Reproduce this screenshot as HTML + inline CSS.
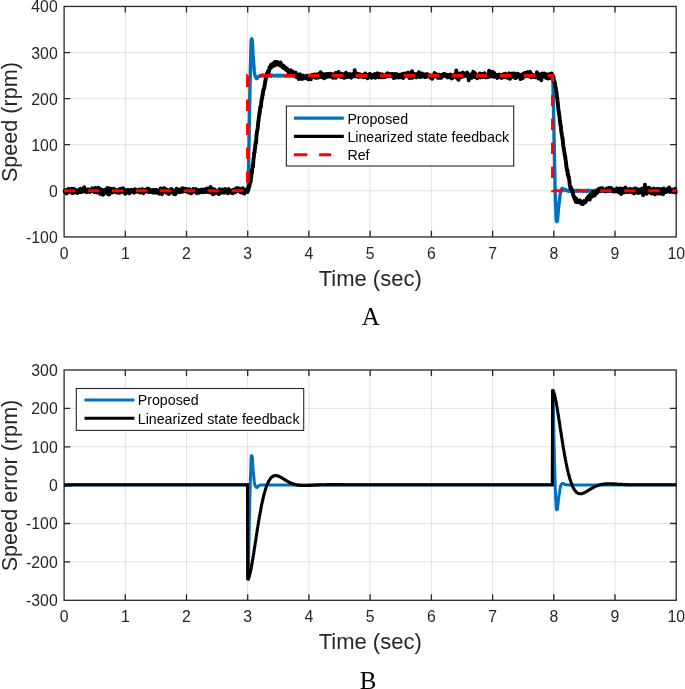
<!DOCTYPE html>
<html lang="en"><head><meta charset="utf-8"><title>Speed response</title>
<style>html,body{margin:0;padding:0;background:#fff}svg{display:block}</style></head>
<body>
<svg width="685" height="689" viewBox="0 0 685 689">
<rect width="685" height="689" fill="#fff"/>
<defs>
<clipPath id="c1"><rect x="62.49999999999999" y="6.45" width="615.3" height="230.5"/></clipPath>
<clipPath id="c2"><rect x="62.49999999999999" y="370.0" width="615.3" height="230.3"/></clipPath>
</defs>
<g stroke="#dedede" stroke-width="0.9" fill="none"><line x1="125.3" y1="6.45" x2="125.3" y2="236.95"/><line x1="186.5" y1="6.45" x2="186.5" y2="236.95"/><line x1="247.7" y1="6.45" x2="247.7" y2="236.95"/><line x1="308.9" y1="6.45" x2="308.9" y2="236.95"/><line x1="370.1" y1="6.45" x2="370.1" y2="236.95"/><line x1="431.4" y1="6.45" x2="431.4" y2="236.95"/><line x1="492.6" y1="6.45" x2="492.6" y2="236.95"/><line x1="553.8" y1="6.45" x2="553.8" y2="236.95"/><line x1="615.0" y1="6.45" x2="615.0" y2="236.95"/><line x1="64.1" y1="190.8" x2="676.2" y2="190.8"/><line x1="64.1" y1="144.7" x2="676.2" y2="144.7"/><line x1="64.1" y1="98.7" x2="676.2" y2="98.7"/><line x1="64.1" y1="52.6" x2="676.2" y2="52.6"/></g>
<g stroke="#262626" stroke-width="1.3" fill="none"><rect x="64.1" y="6.45" width="612.1" height="230.5"/><path d="M125.3,236.95v-6.1M125.3,6.45v6.1"/><path d="M186.5,236.95v-6.1M186.5,6.45v6.1"/><path d="M247.7,236.95v-6.1M247.7,6.45v6.1"/><path d="M308.9,236.95v-6.1M308.9,6.45v6.1"/><path d="M370.1,236.95v-6.1M370.1,6.45v6.1"/><path d="M431.4,236.95v-6.1M431.4,6.45v6.1"/><path d="M492.6,236.95v-6.1M492.6,6.45v6.1"/><path d="M553.8,236.95v-6.1M553.8,6.45v6.1"/><path d="M615.0,236.95v-6.1M615.0,6.45v6.1"/><path d="M64.1,190.8h6.1M676.2,190.8h-6.1"/><path d="M64.1,144.7h6.1M676.2,144.7h-6.1"/><path d="M64.1,98.7h6.1M676.2,98.7h-6.1"/><path d="M64.1,52.6h6.1M676.2,52.6h-6.1"/></g>
<g clip-path="url(#c1)" fill="none" stroke-linejoin="round">
<polyline stroke="#0072bd" stroke-width="3.4" points="64.1,191.1 64.3,191.0 64.6,191.0 64.8,191.2 65.1,190.7 65.3,190.6 65.6,190.9 65.8,190.7 66.1,190.7 66.3,190.6 66.5,190.9 66.8,190.8 67.0,191.3 67.3,190.9 67.5,190.6 67.8,191.1 68.0,190.9 68.3,191.1 68.5,190.5 68.8,191.1 69.0,190.6 69.2,190.4 69.5,191.0 69.7,191.0 70.0,190.6 70.2,190.6 70.5,190.9 70.7,190.6 71.0,190.7 71.2,190.6 71.4,191.1 71.7,191.1 71.9,190.7 72.2,190.7 72.4,191.3 72.7,190.8 72.9,190.5 73.2,190.5 73.4,190.8 73.6,190.7 73.9,190.2 74.1,190.7 74.4,191.1 74.6,190.5 74.9,190.8 75.1,191.2 75.4,191.0 75.6,191.0 75.9,190.8 76.1,190.8 76.3,191.1 76.6,190.9 76.8,190.9 77.1,191.1 77.3,190.4 77.6,190.5 77.8,190.9 78.1,191.0 78.3,191.2 78.5,190.5 78.8,190.5 79.0,191.4 79.3,190.7 79.5,191.1 79.8,191.1 80.0,190.7 80.3,190.8 80.5,190.6 80.7,190.8 81.0,190.8 81.2,190.5 81.5,191.1 81.7,190.9 82.0,190.8 82.2,190.8 82.5,190.8 82.7,191.2 83.0,190.9 83.2,191.2 83.4,191.0 83.7,190.4 83.9,190.5 84.2,191.1 84.4,190.8 84.7,191.0 84.9,190.7 85.2,191.0 85.4,190.8 85.6,190.3 85.9,190.7 86.1,191.0 86.4,190.4 86.6,190.5 86.9,191.1 87.1,191.0 87.4,190.6 87.6,191.0 87.8,190.8 88.1,190.9 88.3,191.1 88.6,190.8 88.8,191.1 89.1,190.6 89.3,190.8 89.6,191.1 89.8,190.6 90.1,190.8 90.3,190.9 90.5,190.6 90.8,190.5 91.0,190.6 91.3,190.7 91.5,190.7 91.8,190.8 92.0,191.1 92.3,190.6 92.5,191.1 92.7,191.2 93.0,190.6 93.2,190.9 93.5,191.3 93.7,190.9 94.0,191.0 94.2,190.3 94.5,190.7 94.7,190.8 94.9,190.9 95.2,190.9 95.4,190.7 95.7,191.2 95.9,191.1 96.2,191.4 96.4,191.0 96.7,190.7 96.9,190.9 97.2,190.8 97.4,191.0 97.6,190.6 97.9,191.0 98.1,190.8 98.4,191.3 98.6,190.9 98.9,190.6 99.1,190.9 99.4,190.8 99.6,190.8 99.8,191.1 100.1,190.5 100.3,191.3 100.6,191.0 100.8,191.0 101.1,190.5 101.3,190.9 101.6,190.6 101.8,190.7 102.1,190.9 102.3,190.8 102.5,190.8 102.8,191.1 103.0,190.7 103.3,190.8 103.5,191.0 103.8,190.9 104.0,191.5 104.3,190.9 104.5,190.6 104.7,190.9 105.0,190.6 105.2,190.8 105.5,190.6 105.7,191.0 106.0,191.0 106.2,190.8 106.5,191.0 106.7,191.1 106.9,191.1 107.2,191.3 107.4,191.0 107.7,191.2 107.9,190.8 108.2,190.6 108.4,190.8 108.7,190.9 108.9,190.9 109.2,191.2 109.4,191.1 109.6,191.1 109.9,191.0 110.1,191.4 110.4,190.7 110.6,190.9 110.9,190.5 111.1,190.6 111.4,190.6 111.6,191.1 111.8,190.6 112.1,191.0 112.3,191.0 112.6,190.7 112.8,190.9 113.1,190.8 113.3,190.9 113.6,190.3 113.8,191.2 114.0,191.0 114.3,190.7 114.5,190.9 114.8,190.7 115.0,190.9 115.3,190.9 115.5,190.8 115.8,190.6 116.0,190.7 116.3,191.2 116.5,190.9 116.7,190.7 117.0,191.2 117.2,191.1 117.5,190.9 117.7,191.1 118.0,190.6 118.2,190.7 118.5,190.8 118.7,190.7 118.9,191.1 119.2,190.9 119.4,190.6 119.7,191.0 119.9,191.2 120.2,190.8 120.4,190.5 120.7,190.5 120.9,190.2 121.1,190.8 121.4,190.9 121.6,190.7 121.9,190.8 122.1,190.8 122.4,190.9 122.6,190.8 122.9,190.8 123.1,190.8 123.4,190.6 123.6,191.3 123.8,190.7 124.1,190.9 124.3,190.8 124.6,190.3 124.8,190.6 125.1,191.1 125.3,190.6 125.6,190.8 125.8,191.0 126.0,190.7 126.3,190.9 126.5,190.7 126.8,190.6 127.0,190.6 127.3,191.2 127.5,191.1 127.8,191.2 128.0,191.0 128.2,190.9 128.5,190.7 128.7,190.8 129.0,191.0 129.2,191.1 129.5,190.7 129.7,190.8 130.0,190.6 130.2,190.8 130.5,191.1 130.7,190.7 130.9,190.8 131.2,190.8 131.4,190.9 131.7,190.8 131.9,190.6 132.2,190.9 132.4,190.8 132.7,191.0 132.9,191.3 133.1,191.1 133.4,190.8 133.6,190.7 133.9,190.6 134.1,191.1 134.4,191.0 134.6,190.5 134.9,191.1 135.1,190.7 135.3,190.5 135.6,190.7 135.8,191.2 136.1,191.0 136.3,191.0 136.6,190.6 136.8,190.7 137.1,190.5 137.3,190.8 137.6,190.8 137.8,191.0 138.0,190.7 138.3,190.8 138.5,190.6 138.8,191.2 139.0,190.5 139.3,190.7 139.5,191.3 139.8,190.7 140.0,190.7 140.2,191.2 140.5,191.0 140.7,191.1 141.0,190.8 141.2,190.5 141.5,191.0 141.7,190.7 142.0,191.0 142.2,190.9 142.4,190.7 142.7,191.3 142.9,190.7 143.2,191.1 143.4,190.7 143.7,190.6 143.9,191.1 144.2,190.6 144.4,190.8 144.7,190.6 144.9,191.0 145.1,190.8 145.4,190.5 145.6,191.0 145.9,191.0 146.1,191.0 146.4,190.7 146.6,190.5 146.9,190.9 147.1,190.8 147.3,190.8 147.6,190.5 147.8,190.8 148.1,191.0 148.3,191.2 148.6,191.3 148.8,190.9 149.1,190.8 149.3,191.0 149.5,191.0 149.8,191.3 150.0,190.8 150.3,190.7 150.5,190.8 150.8,190.7 151.0,190.9 151.3,190.5 151.5,190.4 151.8,190.8 152.0,191.2 152.2,191.0 152.5,190.7 152.7,190.8 153.0,190.8 153.2,190.9 153.5,190.7 153.7,190.8 154.0,191.0 154.2,190.5 154.4,190.7 154.7,190.8 154.9,190.8 155.2,190.9 155.4,191.5 155.7,190.9 155.9,190.9 156.2,190.5 156.4,190.8 156.6,190.8 156.9,191.0 157.1,191.1 157.4,190.6 157.6,191.0 157.9,191.1 158.1,190.6 158.4,190.7 158.6,190.7 158.9,191.4 159.1,190.6 159.3,190.5 159.6,191.1 159.8,191.1 160.1,191.0 160.3,190.7 160.6,190.5 160.8,190.4 161.1,191.0 161.3,191.0 161.5,191.0 161.8,190.9 162.0,190.9 162.3,190.8 162.5,190.7 162.8,191.4 163.0,190.8 163.3,190.6 163.5,190.9 163.7,190.6 164.0,190.7 164.2,190.4 164.5,191.0 164.7,190.7 165.0,190.7 165.2,190.9 165.5,191.0 165.7,190.7 166.0,191.1 166.2,190.7 166.4,190.7 166.7,190.5 166.9,190.9 167.2,191.0 167.4,190.9 167.7,190.7 167.9,190.7 168.2,191.0 168.4,191.5 168.6,190.4 168.9,191.0 169.1,190.7 169.4,191.2 169.6,191.0 169.9,190.9 170.1,191.0 170.4,190.7 170.6,190.6 170.9,190.7 171.1,190.7 171.3,190.5 171.6,190.9 171.8,190.5 172.1,190.6 172.3,191.0 172.6,191.1 172.8,190.6 173.1,190.7 173.3,191.2 173.5,190.7 173.8,190.9 174.0,190.8 174.3,190.9 174.5,191.3 174.8,190.8 175.0,190.9 175.3,190.9 175.5,190.7 175.7,190.5 176.0,190.9 176.2,190.9 176.5,191.2 176.7,191.1 177.0,190.9 177.2,190.6 177.5,190.5 177.7,190.3 178.0,190.7 178.2,191.0 178.4,190.9 178.7,190.6 178.9,190.7 179.2,190.9 179.4,190.8 179.7,190.5 179.9,190.8 180.2,191.3 180.4,190.5 180.6,190.7 180.9,190.6 181.1,190.9 181.4,190.9 181.6,190.9 181.9,190.6 182.1,191.0 182.4,190.9 182.6,190.6 182.8,190.6 183.1,190.9 183.3,190.8 183.6,191.0 183.8,191.2 184.1,190.6 184.3,191.2 184.6,191.1 184.8,190.8 185.1,190.5 185.3,190.9 185.5,190.7 185.8,190.8 186.0,190.7 186.3,191.1 186.5,190.9 186.8,190.9 187.0,191.3 187.3,191.0 187.5,190.5 187.7,190.9 188.0,191.0 188.2,190.5 188.5,191.0 188.7,191.1 189.0,190.8 189.2,190.9 189.5,191.1 189.7,190.7 189.9,190.9 190.2,190.5 190.4,191.0 190.7,190.8 190.9,191.0 191.2,191.1 191.4,190.9 191.7,191.2 191.9,190.6 192.2,191.1 192.4,190.7 192.6,190.8 192.9,191.1 193.1,190.7 193.4,190.5 193.6,190.9 193.9,191.1 194.1,190.4 194.4,190.8 194.6,190.7 194.8,190.7 195.1,191.1 195.3,191.1 195.6,190.6 195.8,190.9 196.1,190.8 196.3,191.0 196.6,191.0 196.8,190.6 197.0,190.4 197.3,191.0 197.5,190.8 197.8,190.5 198.0,190.9 198.3,190.5 198.5,190.7 198.8,190.6 199.0,191.0 199.3,191.5 199.5,190.8 199.7,191.2 200.0,190.7 200.2,191.0 200.5,190.9 200.7,191.2 201.0,190.7 201.2,191.2 201.5,190.7 201.7,190.7 201.9,190.8 202.2,190.5 202.4,190.8 202.7,190.7 202.9,191.1 203.2,191.0 203.4,190.5 203.7,190.6 203.9,190.6 204.1,190.8 204.4,191.1 204.6,191.0 204.9,190.8 205.1,190.8 205.4,190.7 205.6,190.7 205.9,191.1 206.1,191.1 206.4,190.6 206.6,190.7 206.8,190.7 207.1,191.1 207.3,190.1 207.6,190.7 207.8,191.1 208.1,191.0 208.3,191.1 208.6,190.8 208.8,191.1 209.0,190.8 209.3,190.9 209.5,190.8 209.8,190.8 210.0,191.0 210.3,190.6 210.5,190.8 210.8,190.8 211.0,190.6 211.2,190.6 211.5,190.9 211.7,191.2 212.0,191.2 212.2,191.1 212.5,190.9 212.7,190.7 213.0,191.0 213.2,190.6 213.5,191.1 213.7,190.5 213.9,191.0 214.2,190.8 214.4,191.2 214.7,191.0 214.9,190.8 215.2,191.1 215.4,190.4 215.7,191.1 215.9,190.8 216.1,190.8 216.4,190.7 216.6,191.0 216.9,190.8 217.1,191.0 217.4,190.7 217.6,191.1 217.9,190.9 218.1,190.5 218.3,191.1 218.6,191.1 218.8,191.0 219.1,190.5 219.3,190.9 219.6,190.5 219.8,190.9 220.1,190.9 220.3,191.1 220.6,190.9 220.8,190.8 221.0,190.8 221.3,191.6 221.5,190.9 221.8,190.7 222.0,191.0 222.3,190.9 222.5,190.8 222.8,191.0 223.0,190.8 223.2,190.9 223.5,190.7 223.7,191.1 224.0,191.1 224.2,190.9 224.5,190.9 224.7,191.1 225.0,190.8 225.2,191.0 225.4,190.9 225.7,190.4 225.9,190.6 226.2,190.9 226.4,190.8 226.7,190.8 226.9,190.8 227.2,190.9 227.4,191.1 227.7,191.2 227.9,190.2 228.1,191.4 228.4,190.9 228.6,191.1 228.9,190.5 229.1,190.8 229.4,190.5 229.6,191.3 229.9,190.8 230.1,191.0 230.3,190.9 230.6,190.9 230.8,190.9 231.1,190.5 231.3,191.2 231.6,191.1 231.8,191.2 232.1,190.8 232.3,190.5 232.5,191.3 232.8,190.7 233.0,190.9 233.3,190.7 233.5,191.1 233.8,190.8 234.0,190.8 234.3,190.6 234.5,190.6 234.8,190.7 235.0,191.0 235.2,191.0 235.5,190.9 235.7,190.7 236.0,191.0 236.2,190.9 236.5,191.0 236.7,191.0 237.0,190.8 237.2,190.6 237.4,191.0 237.7,190.9 237.9,191.2 238.2,191.0 238.4,190.9 238.7,190.7 238.9,190.7 239.2,190.8 239.4,190.8 239.7,190.8 239.9,190.8 240.1,190.8 240.4,190.4 240.6,190.9 240.9,190.9 241.1,190.7 241.4,191.2 241.6,190.5 241.9,190.6 242.1,190.9 242.3,191.0 242.6,191.5 242.8,191.1 243.1,191.0 243.3,190.7 243.6,190.9 243.8,191.3 244.1,190.6 244.3,191.1 244.5,190.5 244.8,191.2 245.0,190.7 245.3,191.1 245.5,190.9 245.8,190.8 246.0,191.1 246.3,190.9 246.5,191.0 246.8,191.0 247.0,190.8 247.2,191.2 247.5,190.9 247.7,190.5 248.0,190.7 248.2,184.3 248.5,171.0 248.7,156.9 249.0,143.2 249.2,129.5 249.4,116.0 249.7,102.2 249.9,90.2 250.2,78.5 250.4,68.0 250.7,58.7 250.9,48.3 251.2,41.2 251.4,38.9 251.6,39.6 251.9,38.8 252.1,40.0 252.4,43.2 252.6,46.4 252.9,52.1 253.1,56.7 253.4,59.7 253.6,62.7 253.9,66.0 254.1,68.8 254.3,71.7 254.6,73.8 254.8,74.7 255.1,75.7 255.3,76.2 255.6,77.1 255.8,77.4 256.1,78.3 256.3,78.1 256.5,78.2 256.8,78.6 257.0,78.4 257.3,77.8 257.5,77.5 257.8,77.7 258.0,77.1 258.3,76.7 258.5,76.8 258.7,76.6 259.0,76.2 259.2,76.1 259.5,76.0 259.7,75.8 260.0,75.9 260.2,75.4 260.5,75.6 260.7,75.6 261.0,75.5 261.2,75.4 261.4,75.8 261.7,75.8 261.9,75.4 262.2,75.4 262.4,75.2 262.7,75.7 262.9,75.0 263.2,75.8 263.4,75.5 263.6,75.4 263.9,75.4 264.1,75.7 264.4,75.3 264.6,75.6 264.9,75.6 265.1,75.6 265.4,75.6 265.6,75.4 265.8,75.5 266.1,75.2 266.3,75.8 266.6,75.5 266.8,75.5 267.1,75.6 267.3,75.6 267.6,75.9 267.8,75.7 268.1,75.5 268.3,75.5 268.5,75.7 268.8,75.7 269.0,75.2 269.3,75.7 269.5,75.7 269.8,75.1 270.0,75.4 270.3,75.8 270.5,75.5 270.7,75.8 271.0,75.6 271.2,75.8 271.5,76.1 271.7,75.3 272.0,75.2 272.2,75.7 272.5,75.5 272.7,75.6 272.9,75.2 273.2,75.5 273.4,75.5 273.7,75.5 273.9,75.5 274.2,75.9 274.4,75.6 274.7,75.6 274.9,75.9 275.2,75.6 275.4,75.6 275.6,75.6 275.9,75.6 276.1,75.6 276.4,75.4 276.6,75.8 276.9,75.6 277.1,75.2 277.4,75.2 277.6,75.8 277.8,75.4 278.1,75.4 278.3,75.6 278.6,76.1 278.8,75.5 279.1,75.5 279.3,75.6 279.6,75.4 279.8,75.6 280.0,75.4 280.3,75.7 280.5,75.3 280.8,75.9 281.0,75.6 281.3,75.7 281.5,75.7 281.8,75.6 282.0,75.5 282.3,75.5 282.5,75.5 282.7,75.7 283.0,75.7 283.2,75.5 283.5,75.6 283.7,75.6 284.0,76.0 284.2,75.5 284.5,76.1 284.7,76.0 284.9,75.6 285.2,75.8 285.4,75.6 285.7,75.7 285.9,76.1 286.2,75.7 286.4,75.6 286.7,76.0 286.9,75.9 287.1,75.6 287.4,75.9 287.6,75.6 287.9,75.6 288.1,75.7 288.4,75.8 288.6,75.4 288.9,75.2 289.1,75.9 289.4,75.8 289.6,75.5 289.8,75.2 290.1,76.1 290.3,76.1 290.6,75.4 290.8,76.0 291.1,75.8 291.3,75.8 291.6,75.5 291.8,75.7 292.0,75.2 292.3,75.4 292.5,75.4 292.8,75.2 293.0,75.6 293.3,75.7 293.5,75.7 293.8,75.3 294.0,76.1 294.2,75.5 294.5,75.4 294.7,75.3 295.0,76.0 295.2,75.8 295.5,75.1 295.7,75.5 296.0,75.4 296.2,75.6 296.5,75.6 296.7,75.5 296.9,75.7 297.2,75.7 297.4,75.7 297.7,75.9 297.9,75.6 298.2,75.9 298.4,75.6 298.7,75.3 298.9,75.5 299.1,75.7 299.4,75.9 299.6,75.9 299.9,75.5 300.1,75.6 300.4,75.3 300.6,75.5 300.9,75.6 301.1,75.8 301.3,75.7 301.6,75.8 301.8,75.5 302.1,75.5 302.3,75.5 302.6,75.3 302.8,75.7 303.1,75.3 303.3,75.5 303.6,75.4 303.8,75.5 304.0,75.9 304.3,75.7 304.5,75.7 304.8,75.9 305.0,75.5 305.3,75.4 305.5,75.6 305.8,75.6 306.0,75.6 306.2,75.5 306.5,75.2 306.7,75.3 307.0,75.6 307.2,75.5 307.5,75.9 307.7,75.5 308.0,75.5 308.2,75.7 308.5,75.2 308.7,75.8 308.9,75.9 309.2,75.8 309.4,75.8 309.7,75.6 309.9,76.0 310.2,76.0 310.4,75.8 310.7,75.6 310.9,75.7 311.1,75.3 311.4,75.7 311.6,75.1 311.9,75.7 312.1,75.8 312.4,75.4 312.6,75.4 312.9,75.6 313.1,75.6 313.3,75.7 313.6,75.8 313.8,75.7 314.1,75.7 314.3,75.6 314.6,75.9 314.8,76.0 315.1,75.6 315.3,75.5 315.6,75.5 315.8,75.9 316.0,75.8 316.3,75.4 316.5,75.6 316.8,75.7 317.0,75.4 317.3,75.2 317.5,75.6 317.8,75.6 318.0,75.8 318.2,75.5 318.5,75.8 318.7,75.6 319.0,75.8 319.2,75.3 319.5,75.5 319.7,75.7 320.0,75.8 320.2,75.8 320.4,76.0 320.7,76.1 320.9,75.6 321.2,75.3 321.4,75.3 321.7,75.1 321.9,75.7 322.2,75.5 322.4,75.3 322.7,75.7 322.9,75.5 323.1,75.7 323.4,75.4 323.6,75.5 323.9,76.1 324.1,75.4 324.4,75.8 324.6,75.6 324.9,76.1 325.1,75.5 325.3,75.8 325.6,76.1 325.8,75.4 326.1,75.5 326.3,75.3 326.6,75.4 326.8,75.8 327.1,75.8 327.3,75.6 327.5,75.5 327.8,75.7 328.0,75.6 328.3,75.3 328.5,75.6 328.8,75.5 329.0,75.8 329.3,75.5 329.5,75.8 329.8,75.8 330.0,75.6 330.2,75.6 330.5,75.9 330.7,75.5 331.0,75.5 331.2,76.0 331.5,75.5 331.7,75.4 332.0,75.6 332.2,75.4 332.4,75.5 332.7,75.5 332.9,75.6 333.2,75.5 333.4,75.5 333.7,75.5 333.9,75.9 334.2,75.9 334.4,75.6 334.6,75.6 334.9,75.7 335.1,75.8 335.4,75.8 335.6,75.8 335.9,75.9 336.1,75.2 336.4,75.8 336.6,75.8 336.9,75.8 337.1,75.6 337.3,75.6 337.6,75.3 337.8,75.7 338.1,75.6 338.3,75.5 338.6,75.6 338.8,75.4 339.1,75.4 339.3,75.7 339.5,75.7 339.8,75.8 340.0,75.3 340.3,75.7 340.5,75.6 340.8,75.4 341.0,75.4 341.3,75.8 341.5,75.1 341.7,75.9 342.0,75.5 342.2,75.8 342.5,75.8 342.7,75.8 343.0,75.3 343.2,75.6 343.5,75.6 343.7,75.5 344.0,75.7 344.2,75.7 344.4,75.4 344.7,75.4 344.9,75.6 345.2,75.4 345.4,75.9 345.7,75.2 345.9,75.5 346.2,75.6 346.4,75.6 346.6,75.6 346.9,75.4 347.1,75.9 347.4,75.8 347.6,75.6 347.9,76.0 348.1,75.8 348.4,75.8 348.6,75.7 348.8,75.7 349.1,75.8 349.3,76.1 349.6,75.5 349.8,75.2 350.1,75.8 350.3,75.4 350.6,75.5 350.8,75.4 351.1,75.5 351.3,75.4 351.5,75.5 351.8,75.8 352.0,75.9 352.3,75.7 352.5,75.8 352.8,75.4 353.0,75.8 353.3,75.3 353.5,75.4 353.7,75.7 354.0,75.2 354.2,75.2 354.5,75.3 354.7,75.5 355.0,75.4 355.2,75.4 355.5,75.5 355.7,76.0 355.9,75.6 356.2,75.6 356.4,75.5 356.7,76.0 356.9,75.6 357.2,75.7 357.4,75.3 357.7,75.8 357.9,75.7 358.2,75.6 358.4,75.5 358.6,75.9 358.9,76.1 359.1,75.4 359.4,76.1 359.6,75.3 359.9,75.4 360.1,75.6 360.4,75.5 360.6,75.7 360.8,75.6 361.1,75.6 361.3,75.3 361.6,75.7 361.8,75.4 362.1,75.4 362.3,75.5 362.6,75.4 362.8,75.2 363.0,75.7 363.3,75.4 363.5,75.2 363.8,76.1 364.0,75.7 364.3,75.7 364.5,75.6 364.8,75.5 365.0,75.7 365.3,75.9 365.5,75.7 365.7,75.7 366.0,75.6 366.2,75.4 366.5,75.5 366.7,75.9 367.0,75.4 367.2,75.6 367.5,75.4 367.7,75.3 367.9,75.4 368.2,75.5 368.4,76.0 368.7,75.4 368.9,75.8 369.2,75.8 369.4,75.5 369.7,75.7 369.9,75.4 370.1,75.7 370.4,75.8 370.6,75.8 370.9,75.8 371.1,75.8 371.4,76.0 371.6,75.5 371.9,75.7 372.1,75.6 372.4,75.7 372.6,75.3 372.8,75.8 373.1,75.9 373.3,75.8 373.6,76.0 373.8,75.1 374.1,75.8 374.3,75.7 374.6,75.2 374.8,75.7 375.0,75.5 375.3,75.3 375.5,75.4 375.8,75.8 376.0,75.6 376.3,75.5 376.5,76.0 376.8,75.6 377.0,75.3 377.3,76.0 377.5,75.6 377.7,75.7 378.0,75.4 378.2,75.8 378.5,75.6 378.7,75.7 379.0,75.3 379.2,75.6 379.5,75.6 379.7,75.3 379.9,75.1 380.2,75.8 380.4,75.7 380.7,75.4 380.9,75.7 381.2,75.6 381.4,75.8 381.7,75.5 381.9,75.7 382.1,75.6 382.4,75.4 382.6,75.9 382.9,75.5 383.1,76.0 383.4,75.8 383.6,75.7 383.9,75.3 384.1,75.8 384.4,75.6 384.6,75.5 384.8,75.5 385.1,75.7 385.3,75.8 385.6,75.6 385.8,75.4 386.1,75.8 386.3,75.8 386.6,75.9 386.8,75.8 387.0,75.6 387.3,76.0 387.5,75.7 387.8,75.8 388.0,75.3 388.3,75.7 388.5,75.3 388.8,75.6 389.0,75.7 389.2,75.4 389.5,75.5 389.7,75.7 390.0,75.5 390.2,75.5 390.5,75.4 390.7,75.6 391.0,75.4 391.2,75.1 391.5,75.6 391.7,75.7 391.9,75.7 392.2,75.5 392.4,75.9 392.7,75.3 392.9,75.7 393.2,75.7 393.4,75.2 393.7,75.6 393.9,75.6 394.1,75.7 394.4,75.7 394.6,75.5 394.9,75.4 395.1,75.5 395.4,75.6 395.6,75.7 395.9,76.0 396.1,75.6 396.3,75.7 396.6,75.8 396.8,75.6 397.1,75.9 397.3,75.2 397.6,75.7 397.8,75.5 398.1,75.3 398.3,75.7 398.6,75.8 398.8,75.5 399.0,75.5 399.3,75.4 399.5,75.5 399.8,75.6 400.0,75.6 400.3,75.7 400.5,75.6 400.8,75.5 401.0,75.9 401.2,75.6 401.5,75.8 401.7,75.5 402.0,75.4 402.2,75.7 402.5,75.8 402.7,75.8 403.0,76.1 403.2,75.6 403.4,75.4 403.7,75.4 403.9,75.7 404.2,76.0 404.4,75.8 404.7,75.7 404.9,75.4 405.2,75.4 405.4,75.7 405.7,75.6 405.9,75.8 406.1,75.4 406.4,75.7 406.6,76.4 406.9,75.4 407.1,75.6 407.4,75.4 407.6,75.6 407.9,75.4 408.1,75.5 408.3,75.9 408.6,75.6 408.8,75.9 409.1,75.6 409.3,75.6 409.6,75.5 409.8,75.4 410.1,75.3 410.3,75.7 410.5,76.1 410.8,75.3 411.0,75.5 411.3,75.5 411.5,75.5 411.8,75.8 412.0,75.5 412.3,75.4 412.5,76.0 412.8,75.5 413.0,75.3 413.2,75.6 413.5,75.9 413.7,75.8 414.0,75.6 414.2,75.8 414.5,75.5 414.7,75.4 415.0,75.2 415.2,76.0 415.4,75.7 415.7,75.8 415.9,75.6 416.2,75.4 416.4,75.7 416.7,75.5 416.9,75.5 417.2,75.5 417.4,75.6 417.6,75.3 417.9,75.3 418.1,75.6 418.4,75.4 418.6,75.6 418.9,75.2 419.1,75.7 419.4,75.7 419.6,75.7 419.9,75.7 420.1,75.6 420.3,75.4 420.6,75.3 420.8,75.5 421.1,75.8 421.3,75.5 421.6,75.7 421.8,75.8 422.1,75.7 422.3,75.8 422.5,75.5 422.8,75.9 423.0,75.5 423.3,75.7 423.5,75.6 423.8,75.4 424.0,75.6 424.3,75.7 424.5,75.9 424.7,75.5 425.0,75.7 425.2,75.5 425.5,75.4 425.7,75.8 426.0,75.9 426.2,75.0 426.5,75.4 426.7,75.8 427.0,75.3 427.2,75.5 427.4,75.8 427.7,75.4 427.9,75.3 428.2,75.7 428.4,75.7 428.7,75.8 428.9,75.6 429.2,75.6 429.4,75.6 429.6,75.8 429.9,75.7 430.1,75.2 430.4,75.3 430.6,75.7 430.9,75.5 431.1,75.6 431.4,75.1 431.6,75.1 431.8,75.3 432.1,76.2 432.3,75.8 432.6,75.8 432.8,75.8 433.1,75.4 433.3,75.5 433.6,75.9 433.8,75.7 434.1,75.6 434.3,75.8 434.5,75.5 434.8,75.6 435.0,75.2 435.3,75.8 435.5,75.9 435.8,76.2 436.0,75.5 436.3,75.7 436.5,75.6 436.7,76.0 437.0,75.8 437.2,75.4 437.5,75.3 437.7,75.4 438.0,75.6 438.2,75.3 438.5,75.3 438.7,76.0 439.0,75.6 439.2,75.6 439.4,75.6 439.7,75.6 439.9,75.7 440.2,75.8 440.4,75.4 440.7,75.7 440.9,75.6 441.2,75.6 441.4,75.8 441.6,75.4 441.9,75.5 442.1,75.4 442.4,75.7 442.6,75.7 442.9,75.7 443.1,75.7 443.4,75.4 443.6,75.2 443.8,75.5 444.1,75.6 444.3,75.9 444.6,75.3 444.8,75.3 445.1,75.9 445.3,75.7 445.6,75.7 445.8,75.8 446.1,75.6 446.3,75.6 446.5,75.4 446.8,75.3 447.0,75.7 447.3,75.2 447.5,75.8 447.8,75.7 448.0,75.7 448.3,75.5 448.5,75.9 448.7,75.0 449.0,75.9 449.2,75.7 449.5,75.5 449.7,75.6 450.0,75.3 450.2,75.7 450.5,75.8 450.7,75.3 450.9,75.7 451.2,75.0 451.4,75.4 451.7,75.7 451.9,75.3 452.2,76.2 452.4,76.0 452.7,75.6 452.9,75.9 453.2,75.5 453.4,76.0 453.6,75.9 453.9,75.5 454.1,75.5 454.4,75.6 454.6,75.8 454.9,76.0 455.1,75.7 455.4,75.6 455.6,75.4 455.8,75.6 456.1,75.6 456.3,75.5 456.6,75.6 456.8,75.3 457.1,75.5 457.3,75.8 457.6,75.8 457.8,75.4 458.0,75.8 458.3,75.4 458.5,75.6 458.8,75.4 459.0,75.7 459.3,75.5 459.5,75.5 459.8,75.6 460.0,76.0 460.3,75.7 460.5,75.6 460.7,75.5 461.0,75.5 461.2,75.7 461.5,76.1 461.7,75.8 462.0,75.7 462.2,75.5 462.5,75.4 462.7,75.2 462.9,75.3 463.2,75.6 463.4,75.5 463.7,75.3 463.9,75.2 464.2,75.4 464.4,75.5 464.7,75.5 464.9,75.4 465.1,75.7 465.4,75.7 465.6,75.5 465.9,75.3 466.1,75.6 466.4,76.1 466.6,75.6 466.9,75.6 467.1,75.3 467.4,75.5 467.6,75.8 467.8,75.5 468.1,75.7 468.3,75.7 468.6,75.6 468.8,75.2 469.1,75.8 469.3,75.1 469.6,75.2 469.8,75.6 470.0,75.8 470.3,75.5 470.5,75.6 470.8,75.2 471.0,75.6 471.3,75.3 471.5,75.5 471.8,76.0 472.0,75.5 472.2,75.6 472.5,75.9 472.7,75.6 473.0,75.5 473.2,75.4 473.5,75.6 473.7,75.6 474.0,75.5 474.2,75.6 474.5,75.7 474.7,75.7 474.9,75.2 475.2,75.7 475.4,75.4 475.7,75.5 475.9,75.8 476.2,75.5 476.4,75.4 476.7,75.8 476.9,76.0 477.1,75.9 477.4,75.4 477.6,75.5 477.9,75.4 478.1,75.3 478.4,75.5 478.6,75.4 478.9,75.6 479.1,75.8 479.3,74.9 479.6,75.5 479.8,75.3 480.1,75.6 480.3,75.3 480.6,75.7 480.8,75.5 481.1,75.6 481.3,75.4 481.6,75.5 481.8,75.7 482.0,75.9 482.3,75.8 482.5,75.6 482.8,75.8 483.0,75.3 483.3,75.8 483.5,75.4 483.8,75.5 484.0,75.4 484.2,75.5 484.5,75.3 484.7,75.4 485.0,75.6 485.2,75.4 485.5,75.6 485.7,75.2 486.0,75.9 486.2,76.0 486.4,75.5 486.7,75.7 486.9,75.3 487.2,75.8 487.4,76.0 487.7,75.7 487.9,75.3 488.2,76.0 488.4,75.8 488.7,75.6 488.9,75.5 489.1,75.4 489.4,75.6 489.6,75.4 489.9,75.5 490.1,75.4 490.4,75.6 490.6,75.6 490.9,75.7 491.1,75.5 491.3,75.6 491.6,75.4 491.8,75.7 492.1,75.7 492.3,75.3 492.6,75.6 492.8,75.5 493.1,75.2 493.3,75.8 493.5,75.5 493.8,75.6 494.0,75.6 494.3,75.4 494.5,76.0 494.8,75.9 495.0,75.7 495.3,75.4 495.5,75.1 495.8,75.9 496.0,75.6 496.2,75.6 496.5,75.5 496.7,75.5 497.0,75.5 497.2,75.4 497.5,75.4 497.7,75.5 498.0,75.6 498.2,76.1 498.4,75.8 498.7,75.6 498.9,75.0 499.2,75.5 499.4,75.2 499.7,75.6 499.9,75.9 500.2,75.7 500.4,75.4 500.6,75.6 500.9,75.7 501.1,75.2 501.4,75.6 501.6,75.6 501.9,76.0 502.1,75.9 502.4,75.6 502.6,75.6 502.9,76.0 503.1,75.6 503.3,75.7 503.6,75.0 503.8,74.9 504.1,75.4 504.3,75.9 504.6,75.2 504.8,75.4 505.1,75.8 505.3,75.5 505.5,75.4 505.8,75.4 506.0,75.7 506.3,75.4 506.5,75.4 506.8,75.2 507.0,76.1 507.3,75.8 507.5,75.0 507.8,75.7 508.0,75.2 508.2,75.3 508.5,75.9 508.7,75.8 509.0,75.5 509.2,75.8 509.5,75.8 509.7,75.4 510.0,75.5 510.2,75.8 510.4,75.6 510.7,75.5 510.9,75.4 511.2,75.5 511.4,75.3 511.7,75.8 511.9,75.5 512.2,75.5 512.4,75.8 512.6,75.2 512.9,75.8 513.1,75.6 513.4,75.3 513.6,76.0 513.9,75.6 514.1,75.6 514.4,76.0 514.6,75.6 514.9,75.5 515.1,76.0 515.3,75.5 515.6,75.7 515.8,75.6 516.1,75.6 516.3,75.5 516.6,75.8 516.8,75.2 517.1,75.5 517.3,75.5 517.5,75.7 517.8,75.4 518.0,75.7 518.3,75.5 518.5,76.0 518.8,75.1 519.0,75.9 519.3,75.1 519.5,75.8 519.7,75.5 520.0,75.4 520.2,75.4 520.5,75.7 520.7,75.4 521.0,75.7 521.2,75.2 521.5,75.6 521.7,75.7 522.0,75.8 522.2,75.2 522.4,75.8 522.7,75.7 522.9,75.7 523.2,75.5 523.4,75.3 523.7,75.4 523.9,75.5 524.2,75.6 524.4,75.8 524.6,75.2 524.9,75.6 525.1,75.5 525.4,75.5 525.6,75.7 525.9,75.3 526.1,75.7 526.4,75.6 526.6,75.5 526.8,75.8 527.1,75.7 527.3,76.1 527.6,75.7 527.8,75.8 528.1,75.4 528.3,75.4 528.6,75.5 528.8,75.4 529.1,76.0 529.3,75.8 529.5,75.2 529.8,75.3 530.0,75.3 530.3,75.8 530.5,75.4 530.8,75.9 531.0,75.5 531.3,75.5 531.5,75.2 531.7,75.5 532.0,75.7 532.2,75.7 532.5,75.5 532.7,75.8 533.0,75.0 533.2,75.9 533.5,75.5 533.7,75.6 533.9,75.8 534.2,75.5 534.4,75.5 534.7,75.6 534.9,75.7 535.2,75.5 535.4,75.4 535.7,75.8 535.9,76.0 536.2,75.3 536.4,75.4 536.6,75.5 536.9,75.7 537.1,75.6 537.4,75.3 537.6,75.5 537.9,75.3 538.1,75.7 538.4,75.4 538.6,75.4 538.8,76.0 539.1,75.4 539.3,75.7 539.6,75.5 539.8,75.2 540.1,75.5 540.3,75.9 540.6,75.1 540.8,75.3 541.0,75.7 541.3,75.7 541.5,75.5 541.8,75.5 542.0,75.7 542.3,75.7 542.5,75.8 542.8,75.8 543.0,75.4 543.3,75.6 543.5,75.3 543.7,75.6 544.0,75.8 544.2,75.2 544.5,75.8 544.7,75.9 545.0,75.4 545.2,75.8 545.5,75.6 545.7,75.4 545.9,75.1 546.2,75.5 546.4,75.6 546.7,75.5 546.9,75.5 547.2,75.6 547.4,75.7 547.7,75.8 547.9,75.9 548.1,75.7 548.4,75.8 548.6,75.7 548.9,75.5 549.1,75.8 549.4,75.7 549.6,75.3 549.9,75.2 550.1,75.2 550.4,76.1 550.6,75.2 550.8,75.3 551.1,76.3 551.3,75.1 551.6,75.6 551.8,75.4 552.1,75.7 552.3,75.7 552.6,76.0 552.8,75.2 553.0,85.0 553.3,96.9 553.5,110.1 553.8,123.3 554.0,136.5 554.3,149.3 554.5,161.6 554.8,173.0 555.0,183.5 555.2,192.9 555.5,200.1 555.7,207.2 556.0,214.2 556.2,219.5 556.5,221.4 556.7,221.3 557.0,221.7 557.2,221.1 557.5,220.3 557.7,217.9 557.9,215.3 558.2,212.2 558.4,209.4 558.7,206.4 558.9,204.5 559.2,202.6 559.4,200.7 559.7,198.6 559.9,196.5 560.1,194.6 560.4,193.5 560.6,191.8 560.9,191.3 561.1,190.7 561.4,190.1 561.6,189.2 561.9,189.0 562.1,188.5 562.3,188.7 562.6,188.6 562.8,189.0 563.1,188.9 563.3,189.2 563.6,189.1 563.8,189.2 564.1,189.2 564.3,189.1 564.6,189.3 564.8,190.0 565.0,190.1 565.3,190.0 565.5,190.3 565.8,189.8 566.0,190.4 566.3,190.2 566.5,190.3 566.8,190.6 567.0,190.4 567.2,190.5 567.5,190.8 567.7,190.5 568.0,191.0 568.2,190.8 568.5,191.1 568.7,191.2 569.0,191.1 569.2,190.3 569.4,191.0 569.7,190.6 569.9,190.7 570.2,191.0 570.4,190.7 570.7,190.8 570.9,190.9 571.2,190.7 571.4,190.8 571.7,190.8 571.9,190.9 572.1,191.0 572.4,190.2 572.6,191.1 572.9,190.9 573.1,190.6 573.4,191.0 573.6,191.3 573.9,191.3 574.1,190.3 574.3,190.4 574.6,190.7 574.8,190.7 575.1,191.0 575.3,191.0 575.6,191.2 575.8,190.6 576.1,191.2 576.3,191.0 576.6,190.6 576.8,191.2 577.0,190.9 577.3,190.6 577.5,190.8 577.8,190.3 578.0,191.0 578.3,190.7 578.5,190.8 578.8,190.8 579.0,190.8 579.2,191.2 579.5,191.1 579.7,190.7 580.0,190.6 580.2,190.3 580.5,191.0 580.7,191.1 581.0,190.9 581.2,190.9 581.4,190.7 581.7,191.0 581.9,190.7 582.2,190.8 582.4,190.8 582.7,191.0 582.9,190.8 583.2,191.0 583.4,190.5 583.7,191.4 583.9,190.7 584.1,190.9 584.4,190.5 584.6,190.7 584.9,191.1 585.1,191.0 585.4,190.9 585.6,190.9 585.9,190.7 586.1,190.5 586.3,190.6 586.6,191.5 586.8,190.8 587.1,190.6 587.3,190.7 587.6,190.2 587.8,191.0 588.1,190.8 588.3,190.7 588.5,190.6 588.8,190.9 589.0,191.3 589.3,191.2 589.5,190.5 589.8,190.7 590.0,190.8 590.3,191.2 590.5,191.0 590.8,190.9 591.0,191.0 591.2,190.8 591.5,190.7 591.7,191.0 592.0,190.9 592.2,190.6 592.5,191.3 592.7,191.0 593.0,191.0 593.2,191.1 593.4,190.8 593.7,191.5 593.9,191.1 594.2,190.7 594.4,190.4 594.7,190.7 594.9,191.3 595.2,190.8 595.4,190.9 595.6,190.4 595.9,190.6 596.1,190.7 596.4,190.6 596.6,190.8 596.9,190.8 597.1,190.8 597.4,190.9 597.6,191.0 597.9,190.5 598.1,190.8 598.3,190.7 598.6,190.4 598.8,191.0 599.1,190.9 599.3,190.8 599.6,191.2 599.8,190.7 600.1,190.8 600.3,191.1 600.5,191.0 600.8,190.8 601.0,190.3 601.3,190.8 601.5,191.2 601.8,190.7 602.0,190.9 602.3,191.1 602.5,191.0 602.7,190.9 603.0,190.7 603.2,190.8 603.5,191.2 603.7,190.8 604.0,191.1 604.2,190.9 604.5,191.1 604.7,190.8 605.0,190.6 605.2,190.9 605.4,191.1 605.7,190.6 605.9,191.0 606.2,190.9 606.4,190.9 606.7,190.9 606.9,190.8 607.2,190.8 607.4,190.6 607.6,190.8 607.9,190.6 608.1,190.8 608.4,191.0 608.6,191.2 608.9,190.6 609.1,190.8 609.4,191.3 609.6,190.8 609.8,190.9 610.1,190.8 610.3,190.6 610.6,191.1 610.8,191.3 611.1,190.4 611.3,190.8 611.6,190.8 611.8,190.4 612.1,190.8 612.3,191.1 612.5,190.6 612.8,191.0 613.0,190.8 613.3,190.8 613.5,191.0 613.8,190.9 614.0,191.1 614.3,190.8 614.5,190.6 614.7,191.2 615.0,190.9 615.2,191.0 615.5,191.0 615.7,191.0 616.0,190.8 616.2,191.1 616.5,190.6 616.7,190.6 616.9,190.7 617.2,190.8 617.4,190.6 617.7,190.9 617.9,191.1 618.2,191.1 618.4,191.0 618.7,190.6 618.9,190.7 619.2,190.6 619.4,191.4 619.6,191.1 619.9,190.7 620.1,191.1 620.4,191.0 620.6,191.1 620.9,190.5 621.1,190.7 621.4,191.1 621.6,191.0 621.8,190.6 622.1,190.9 622.3,190.7 622.6,190.9 622.8,190.9 623.1,190.9 623.3,190.7 623.6,190.8 623.8,191.0 624.0,191.2 624.3,191.0 624.5,190.9 624.8,191.1 625.0,190.7 625.3,191.1 625.5,190.7 625.8,191.1 626.0,190.4 626.3,190.9 626.5,190.8 626.7,190.7 627.0,191.1 627.2,191.0 627.5,191.2 627.7,191.0 628.0,190.8 628.2,190.7 628.5,190.9 628.7,191.0 628.9,191.3 629.2,190.3 629.4,191.0 629.7,191.0 629.9,190.5 630.2,190.8 630.4,190.7 630.7,191.2 630.9,190.6 631.1,190.8 631.4,190.6 631.6,190.9 631.9,191.2 632.1,191.1 632.4,190.4 632.6,190.8 632.9,190.9 633.1,190.7 633.4,190.5 633.6,190.9 633.8,190.8 634.1,191.1 634.3,190.9 634.6,191.3 634.8,191.1 635.1,190.9 635.3,190.6 635.6,191.3 635.8,190.7 636.0,191.0 636.3,191.5 636.5,190.6 636.8,190.7 637.0,190.7 637.3,190.8 637.5,190.8 637.8,190.9 638.0,190.9 638.2,190.8 638.5,190.9 638.7,191.2 639.0,190.4 639.2,191.0 639.5,190.9 639.7,190.5 640.0,190.9 640.2,190.9 640.5,190.7 640.7,191.1 640.9,190.9 641.2,190.4 641.4,190.9 641.7,190.6 641.9,190.8 642.2,190.8 642.4,190.9 642.7,190.4 642.9,190.9 643.1,190.8 643.4,190.6 643.6,190.7 643.9,191.1 644.1,190.7 644.4,190.8 644.6,191.1 644.9,190.7 645.1,191.0 645.4,190.7 645.6,191.2 645.8,190.8 646.1,190.8 646.3,190.5 646.6,190.9 646.8,190.7 647.1,190.8 647.3,191.1 647.6,190.7 647.8,190.9 648.0,190.9 648.3,191.0 648.5,191.0 648.8,190.8 649.0,190.6 649.3,190.7 649.5,190.9 649.8,190.9 650.0,191.1 650.2,191.0 650.5,190.9 650.7,191.1 651.0,190.5 651.2,191.2 651.5,191.0 651.7,190.9 652.0,190.9 652.2,190.8 652.5,190.8 652.7,191.0 652.9,190.8 653.2,190.5 653.4,190.6 653.7,190.8 653.9,191.2 654.2,190.9 654.4,191.2 654.7,191.0 654.9,191.1 655.1,190.9 655.4,191.2 655.6,190.9 655.9,190.7 656.1,190.8 656.4,190.9 656.6,190.8 656.9,190.8 657.1,190.7 657.3,191.1 657.6,190.9 657.8,191.2 658.1,191.4 658.3,191.5 658.6,190.9 658.8,190.6 659.1,191.0 659.3,190.9 659.6,190.7 659.8,190.8 660.0,190.8 660.3,191.1 660.5,190.6 660.8,190.8 661.0,190.5 661.3,190.6 661.5,190.8 661.8,190.6 662.0,190.8 662.2,190.7 662.5,190.8 662.7,190.7 663.0,190.6 663.2,191.1 663.5,190.3 663.7,190.8 664.0,190.6 664.2,191.2 664.4,190.7 664.7,190.9 664.9,190.5 665.2,190.8 665.4,190.7 665.7,190.8 665.9,190.8 666.2,190.9 666.4,191.1 666.7,190.5 666.9,191.2 667.1,190.9 667.4,190.7 667.6,191.0 667.9,190.9 668.1,190.7 668.4,190.4 668.6,190.4 668.9,190.4 669.1,191.1 669.3,190.6 669.6,191.2 669.8,190.7 670.1,190.6 670.3,190.9 670.6,190.9 670.8,190.6 671.1,190.6 671.3,190.7 671.5,190.9 671.8,190.6 672.0,190.6 672.3,190.6 672.5,190.9 672.8,190.8 673.0,191.0 673.3,190.9 673.5,191.1 673.8,191.2 674.0,191.0 674.2,190.6 674.5,190.5 674.7,191.1 675.0,190.7 675.2,191.0 675.5,190.6 675.7,190.7 676.0,191.0 676.2,191.2"/>
<polyline stroke="#000" stroke-width="3.9" points="64.1,189.9 64.3,190.5 64.6,191.2 64.8,191.7 65.1,190.1 65.3,191.8 65.6,191.9 65.8,190.9 66.1,191.2 66.3,190.5 66.5,193.6 66.8,190.2 67.0,191.1 67.3,192.7 67.5,190.4 67.8,190.4 68.0,192.6 68.3,189.0 68.5,189.7 68.8,189.5 69.0,189.3 69.2,189.1 69.5,190.5 69.7,189.7 70.0,189.7 70.2,191.4 70.5,191.6 70.7,190.8 71.0,191.3 71.2,189.9 71.4,189.3 71.7,191.1 71.9,188.8 72.2,193.1 72.4,190.6 72.7,190.7 72.9,192.3 73.2,192.9 73.4,190.7 73.6,191.1 73.9,188.9 74.1,190.2 74.4,189.3 74.6,192.2 74.9,190.8 75.1,191.4 75.4,192.4 75.6,190.2 75.9,190.7 76.1,190.7 76.3,190.3 76.6,191.0 76.8,190.8 77.1,191.1 77.3,191.8 77.6,193.0 77.8,190.9 78.1,190.5 78.3,190.4 78.5,192.1 78.8,190.4 79.0,190.0 79.3,190.1 79.5,190.9 79.8,191.1 80.0,190.6 80.3,188.6 80.5,191.0 80.7,192.0 81.0,190.5 81.2,189.8 81.5,192.1 81.7,189.2 82.0,191.4 82.2,190.8 82.5,190.0 82.7,191.5 83.0,191.3 83.2,190.8 83.4,190.9 83.7,191.2 83.9,190.2 84.2,187.1 84.4,188.2 84.7,189.3 84.9,191.6 85.2,191.1 85.4,191.4 85.6,191.6 85.9,191.4 86.1,191.2 86.4,190.5 86.6,192.3 86.9,191.3 87.1,190.2 87.4,191.2 87.6,189.5 87.8,191.6 88.1,189.4 88.3,189.8 88.6,190.4 88.8,189.6 89.1,190.0 89.3,191.7 89.6,190.5 89.8,190.9 90.1,191.9 90.3,191.6 90.5,191.3 90.8,190.9 91.0,189.7 91.3,189.6 91.5,190.8 91.8,190.6 92.0,188.9 92.3,188.2 92.5,191.1 92.7,190.8 93.0,188.9 93.2,190.7 93.5,190.2 93.7,189.5 94.0,190.4 94.2,191.9 94.5,191.4 94.7,191.5 94.9,192.1 95.2,190.2 95.4,187.9 95.7,191.4 95.9,191.6 96.2,192.0 96.4,190.1 96.7,191.8 96.9,192.4 97.2,190.0 97.4,191.8 97.6,188.9 97.9,189.2 98.1,189.2 98.4,187.7 98.6,189.6 98.9,190.8 99.1,192.9 99.4,192.4 99.6,191.2 99.8,192.2 100.1,190.4 100.3,193.8 100.6,189.3 100.8,190.7 101.1,191.7 101.3,189.5 101.6,191.5 101.8,192.9 102.1,190.0 102.3,192.1 102.5,192.1 102.8,194.7 103.0,194.8 103.3,194.3 103.5,193.0 103.8,191.6 104.0,190.6 104.3,190.3 104.5,192.0 104.7,191.7 105.0,189.8 105.2,189.8 105.5,190.4 105.7,190.6 106.0,192.2 106.2,191.7 106.5,192.2 106.7,190.5 106.9,193.6 107.2,192.4 107.4,187.9 107.7,190.1 107.9,191.1 108.2,190.8 108.4,190.4 108.7,194.5 108.9,190.2 109.2,188.5 109.4,194.3 109.6,190.7 109.9,189.9 110.1,191.3 110.4,188.6 110.6,191.4 110.9,190.4 111.1,191.6 111.4,191.5 111.6,190.3 111.8,191.5 112.1,191.8 112.3,191.0 112.6,192.4 112.8,190.4 113.1,190.6 113.3,191.1 113.6,188.6 113.8,190.5 114.0,191.3 114.3,190.1 114.5,189.6 114.8,191.7 115.0,189.5 115.3,191.6 115.5,191.6 115.8,191.4 116.0,190.9 116.3,190.2 116.5,190.7 116.7,192.5 117.0,192.6 117.2,191.9 117.5,190.4 117.7,190.4 118.0,192.0 118.2,191.7 118.5,191.4 118.7,192.1 118.9,192.5 119.2,189.2 119.4,192.9 119.7,191.0 119.9,189.9 120.2,190.0 120.4,189.2 120.7,191.3 120.9,188.6 121.1,188.6 121.4,190.5 121.6,192.1 121.9,191.3 122.1,190.6 122.4,189.7 122.6,189.5 122.9,189.9 123.1,188.3 123.4,191.1 123.6,189.0 123.8,190.9 124.1,189.7 124.3,190.8 124.6,190.9 124.8,192.0 125.1,193.7 125.3,193.8 125.6,191.9 125.8,191.8 126.0,190.8 126.3,191.0 126.5,190.4 126.8,190.2 127.0,192.8 127.3,191.4 127.5,192.5 127.8,189.7 128.0,190.5 128.2,190.8 128.5,191.1 128.7,190.9 129.0,190.5 129.2,191.9 129.5,193.3 129.7,191.4 130.0,190.6 130.2,191.2 130.5,190.8 130.7,190.0 130.9,190.5 131.2,190.7 131.4,190.5 131.7,191.4 131.9,190.0 132.2,189.9 132.4,190.3 132.7,190.2 132.9,191.2 133.1,191.8 133.4,190.5 133.6,192.3 133.9,192.8 134.1,191.1 134.4,190.9 134.6,191.5 134.9,189.3 135.1,190.4 135.3,189.5 135.6,191.7 135.8,190.0 136.1,189.7 136.3,190.3 136.6,190.5 136.8,190.4 137.1,191.1 137.3,191.7 137.6,190.9 137.8,191.1 138.0,191.3 138.3,191.4 138.5,191.4 138.8,191.4 139.0,190.1 139.3,189.6 139.5,190.7 139.8,191.0 140.0,192.6 140.2,190.6 140.5,192.1 140.7,190.7 141.0,189.5 141.2,190.4 141.5,189.7 141.7,191.0 142.0,190.4 142.2,191.3 142.4,189.1 142.7,191.3 142.9,190.6 143.2,191.1 143.4,193.3 143.7,192.1 143.9,191.0 144.2,192.2 144.4,190.7 144.7,189.9 144.9,191.2 145.1,191.3 145.4,189.7 145.6,190.4 145.9,190.6 146.1,189.8 146.4,190.5 146.6,191.3 146.9,189.6 147.1,190.9 147.3,191.1 147.6,191.7 147.8,188.4 148.1,190.2 148.3,189.0 148.6,189.3 148.8,190.7 149.1,189.2 149.3,190.6 149.5,190.8 149.8,192.0 150.0,190.5 150.3,191.0 150.5,191.0 150.8,190.3 151.0,191.6 151.3,191.9 151.5,191.6 151.8,190.5 152.0,190.4 152.2,190.8 152.5,190.7 152.7,190.3 153.0,191.3 153.2,192.6 153.5,190.2 153.7,190.9 154.0,191.1 154.2,191.9 154.4,190.0 154.7,192.1 154.9,192.7 155.2,191.9 155.4,191.4 155.7,189.9 155.9,190.4 156.2,191.6 156.4,191.5 156.6,190.9 156.9,190.2 157.1,190.7 157.4,190.3 157.6,190.9 157.9,193.0 158.1,192.5 158.4,190.9 158.6,190.9 158.9,190.6 159.1,191.5 159.3,190.4 159.6,193.7 159.8,192.3 160.1,190.6 160.3,191.8 160.6,188.4 160.8,190.0 161.1,190.5 161.3,192.1 161.5,189.6 161.8,191.8 162.0,194.2 162.3,192.8 162.5,191.1 162.8,192.2 163.0,191.0 163.3,189.3 163.5,188.9 163.7,190.1 164.0,189.0 164.2,188.1 164.5,189.5 164.7,189.2 165.0,190.6 165.2,191.4 165.5,190.9 165.7,192.0 166.0,192.4 166.2,190.5 166.4,189.4 166.7,189.8 166.9,190.5 167.2,191.6 167.4,192.4 167.7,192.3 167.9,193.0 168.2,193.6 168.4,192.0 168.6,192.9 168.9,193.6 169.1,193.9 169.4,192.3 169.6,190.0 169.9,190.3 170.1,192.8 170.4,190.9 170.6,190.5 170.9,190.5 171.1,190.3 171.3,188.9 171.6,190.0 171.8,191.5 172.1,189.5 172.3,190.4 172.6,191.3 172.8,192.4 173.1,193.0 173.3,193.0 173.5,193.4 173.8,192.7 174.0,194.0 174.3,191.2 174.5,191.8 174.8,191.6 175.0,192.5 175.3,194.3 175.5,192.7 175.7,192.1 176.0,192.9 176.2,191.2 176.5,188.8 176.7,191.2 177.0,192.2 177.2,190.1 177.5,191.6 177.7,190.1 178.0,190.2 178.2,190.4 178.4,190.4 178.7,189.7 178.9,191.1 179.2,191.6 179.4,190.3 179.7,192.2 179.9,189.5 180.2,190.7 180.4,190.9 180.6,191.0 180.9,190.6 181.1,190.9 181.4,190.6 181.6,191.7 181.9,191.8 182.1,190.9 182.4,188.2 182.6,191.2 182.8,189.6 183.1,190.3 183.3,191.4 183.6,190.6 183.8,190.3 184.1,190.9 184.3,190.8 184.6,190.5 184.8,189.9 185.1,188.7 185.3,189.4 185.5,189.8 185.8,191.4 186.0,191.3 186.3,191.2 186.5,189.7 186.8,190.7 187.0,191.6 187.3,191.2 187.5,189.3 187.7,190.3 188.0,191.6 188.2,192.3 188.5,191.9 188.7,190.8 189.0,189.8 189.2,192.7 189.5,189.3 189.7,190.1 189.9,190.2 190.2,190.2 190.4,190.8 190.7,191.2 190.9,191.4 191.2,192.5 191.4,193.3 191.7,191.4 191.9,190.1 192.2,190.8 192.4,190.5 192.6,190.1 192.9,190.4 193.1,189.8 193.4,189.1 193.6,191.4 193.9,191.0 194.1,190.6 194.4,191.1 194.6,191.8 194.8,191.5 195.1,190.7 195.3,189.8 195.6,191.1 195.8,189.0 196.1,189.9 196.3,190.0 196.6,191.6 196.8,193.2 197.0,192.7 197.3,191.5 197.5,192.5 197.8,190.8 198.0,189.9 198.3,190.8 198.5,190.2 198.8,192.8 199.0,191.0 199.3,192.7 199.5,192.0 199.7,190.9 200.0,190.3 200.2,190.4 200.5,190.5 200.7,190.3 201.0,191.6 201.2,190.3 201.5,190.7 201.7,189.5 201.9,192.0 202.2,191.5 202.4,191.3 202.7,191.5 202.9,191.2 203.2,192.3 203.4,190.8 203.7,191.2 203.9,191.8 204.1,190.8 204.4,190.9 204.6,189.6 204.9,189.2 205.1,189.5 205.4,189.3 205.6,192.0 205.9,191.2 206.1,190.5 206.4,189.5 206.6,191.1 206.8,190.7 207.1,190.8 207.3,188.4 207.6,188.9 207.8,190.6 208.1,189.6 208.3,191.3 208.6,192.2 208.8,188.8 209.0,188.5 209.3,189.6 209.5,189.8 209.8,192.4 210.0,190.8 210.3,189.9 210.5,186.9 210.8,190.2 211.0,189.9 211.2,190.8 211.5,191.5 211.7,189.6 212.0,192.1 212.2,192.4 212.5,191.2 212.7,189.0 213.0,194.4 213.2,189.4 213.5,189.8 213.7,192.1 213.9,191.8 214.2,190.4 214.4,189.4 214.7,192.8 214.9,190.9 215.2,193.3 215.4,190.7 215.7,191.5 215.9,191.6 216.1,191.1 216.4,190.9 216.6,192.1 216.9,192.6 217.1,191.2 217.4,190.9 217.6,192.7 217.9,192.1 218.1,191.6 218.3,191.4 218.6,192.8 218.8,194.1 219.1,192.1 219.3,191.0 219.6,189.1 219.8,190.1 220.1,190.8 220.3,191.7 220.6,191.3 220.8,192.9 221.0,192.6 221.3,192.6 221.5,191.6 221.8,192.3 222.0,191.1 222.3,189.5 222.5,190.4 222.8,190.1 223.0,191.7 223.2,190.3 223.5,190.0 223.7,190.7 224.0,191.3 224.2,192.9 224.5,191.5 224.7,190.4 225.0,191.8 225.2,188.9 225.4,190.0 225.7,191.2 225.9,190.4 226.2,190.1 226.4,191.7 226.7,192.1 226.9,190.8 227.2,191.3 227.4,190.9 227.7,192.0 227.9,193.4 228.1,192.3 228.4,191.4 228.6,189.0 228.9,189.9 229.1,190.7 229.4,190.1 229.6,192.0 229.9,191.2 230.1,192.4 230.3,191.7 230.6,192.0 230.8,190.4 231.1,192.1 231.3,191.1 231.6,191.6 231.8,193.0 232.1,191.5 232.3,191.6 232.5,193.4 232.8,191.0 233.0,192.2 233.3,189.8 233.5,189.8 233.8,192.4 234.0,191.4 234.3,190.3 234.5,190.2 234.8,191.6 235.0,192.0 235.2,189.7 235.5,192.1 235.7,189.8 236.0,188.3 236.2,190.1 236.5,189.2 236.7,189.0 237.0,190.9 237.2,190.4 237.4,188.3 237.7,190.5 237.9,188.5 238.2,189.4 238.4,188.9 238.7,189.8 238.9,188.8 239.2,188.5 239.4,190.0 239.7,191.0 239.9,190.0 240.1,189.1 240.4,192.2 240.6,188.9 240.9,189.1 241.1,189.8 241.4,189.5 241.6,189.7 241.9,192.5 242.1,192.4 242.3,190.3 242.6,190.1 242.8,188.1 243.1,189.1 243.3,192.5 243.6,190.5 243.8,192.0 244.1,191.5 244.3,193.6 244.5,192.3 244.8,190.7 245.0,190.5 245.3,190.0 245.5,190.7 245.8,191.0 246.0,190.3 246.3,189.5 246.5,189.9 246.8,190.2 247.0,191.7 247.2,191.5 247.5,191.9 247.7,190.4 248.0,189.4 248.2,188.9 248.5,189.6 248.7,186.5 249.0,187.7 249.2,186.6 249.4,186.5 249.7,184.2 249.9,183.4 250.2,182.7 250.4,179.7 250.7,181.6 250.9,178.4 251.2,177.6 251.4,174.7 251.6,173.1 251.9,173.1 252.1,169.7 252.4,168.0 252.6,165.2 252.9,167.0 253.1,165.0 253.4,159.5 253.6,158.8 253.9,156.4 254.1,152.9 254.3,152.4 254.6,152.5 254.8,149.6 255.1,148.1 255.3,144.7 255.6,144.4 255.8,141.4 256.1,142.6 256.3,138.3 256.5,134.6 256.8,133.9 257.0,131.1 257.3,130.5 257.5,129.3 257.8,127.2 258.0,125.1 258.3,121.4 258.5,121.1 258.7,119.0 259.0,116.7 259.2,115.8 259.5,112.0 259.7,113.7 260.0,109.5 260.2,107.8 260.5,106.4 260.7,105.9 261.0,106.9 261.2,102.6 261.4,101.4 261.7,100.0 261.9,98.0 262.2,98.0 262.4,95.0 262.7,95.2 262.9,93.4 263.2,91.4 263.4,89.8 263.6,89.2 263.9,89.1 264.1,88.7 264.4,86.7 264.6,85.3 264.9,84.1 265.1,81.8 265.4,80.4 265.6,80.5 265.8,78.2 266.1,77.9 266.3,76.7 266.6,74.6 266.8,75.8 267.1,73.2 267.3,73.1 267.6,71.9 267.8,73.7 268.1,72.6 268.3,70.8 268.5,72.2 268.8,72.2 269.0,70.9 269.3,69.0 269.5,67.1 269.8,67.9 270.0,68.5 270.3,68.1 270.5,68.2 270.7,67.0 271.0,64.8 271.2,65.9 271.5,65.5 271.7,65.7 272.0,66.9 272.2,64.3 272.5,64.0 272.7,65.7 272.9,65.7 273.2,63.4 273.4,64.4 273.7,63.9 273.9,64.4 274.2,64.4 274.4,65.1 274.7,65.5 274.9,61.9 275.2,63.8 275.4,61.9 275.6,62.4 275.9,63.8 276.1,62.0 276.4,63.0 276.6,62.2 276.9,63.0 277.1,63.3 277.4,63.0 277.6,64.6 277.8,62.2 278.1,62.8 278.3,62.6 278.6,63.7 278.8,63.1 279.1,64.2 279.3,64.1 279.6,65.1 279.8,65.5 280.0,63.9 280.3,62.9 280.5,62.5 280.8,63.6 281.0,65.9 281.3,64.6 281.5,66.1 281.8,65.5 282.0,65.2 282.3,67.0 282.5,65.3 282.7,66.2 283.0,67.6 283.2,67.2 283.5,65.7 283.7,65.7 284.0,68.4 284.2,67.4 284.5,68.0 284.7,68.1 284.9,68.3 285.2,68.0 285.4,67.9 285.7,67.5 285.9,69.9 286.2,69.7 286.4,69.5 286.7,69.7 286.9,70.3 287.1,69.0 287.4,69.0 287.6,70.1 287.9,71.2 288.1,71.2 288.4,70.9 288.6,72.9 288.9,72.2 289.1,71.5 289.4,72.8 289.6,73.0 289.8,73.1 290.1,73.1 290.3,72.8 290.6,70.1 290.8,71.8 291.1,73.9 291.3,74.3 291.6,73.9 291.8,73.3 292.0,73.3 292.3,74.6 292.5,71.5 292.8,74.2 293.0,72.9 293.3,73.3 293.5,75.5 293.8,73.5 294.0,72.6 294.2,75.2 294.5,74.9 294.7,74.7 295.0,73.2 295.2,74.9 295.5,72.5 295.7,75.2 296.0,73.4 296.2,74.5 296.5,75.0 296.7,77.4 296.9,74.7 297.2,74.7 297.4,77.4 297.7,77.1 297.9,76.2 298.2,75.8 298.4,77.5 298.7,78.0 298.9,79.1 299.1,74.8 299.4,75.4 299.6,77.1 299.9,74.2 300.1,74.8 300.4,77.5 300.6,77.1 300.9,77.4 301.1,75.8 301.3,76.1 301.6,77.3 301.8,76.0 302.1,79.0 302.3,78.3 302.6,77.2 302.8,75.6 303.1,77.8 303.3,76.0 303.6,77.7 303.8,77.0 304.0,77.8 304.3,78.1 304.5,76.9 304.8,77.1 305.0,77.6 305.3,77.2 305.5,77.2 305.8,77.1 306.0,76.8 306.2,76.7 306.5,78.4 306.7,77.1 307.0,76.4 307.2,77.9 307.5,75.9 307.7,77.0 308.0,77.7 308.2,77.9 308.5,79.3 308.7,76.7 308.9,78.0 309.2,77.3 309.4,76.2 309.7,76.3 309.9,76.5 310.2,76.9 310.4,77.1 310.7,76.3 310.9,79.3 311.1,76.0 311.4,77.2 311.6,76.5 311.9,76.1 312.1,75.0 312.4,76.1 312.6,76.8 312.9,76.6 313.1,76.1 313.3,77.0 313.6,75.8 313.8,76.7 314.1,74.4 314.3,76.5 314.6,77.4 314.8,77.4 315.1,77.4 315.3,76.9 315.6,77.8 315.8,75.1 316.0,75.7 316.3,74.4 316.5,77.8 316.8,76.8 317.0,75.9 317.3,75.1 317.5,74.4 317.8,76.3 318.0,75.6 318.2,75.8 318.5,77.5 318.7,76.9 319.0,75.8 319.2,75.7 319.5,73.4 319.7,75.2 320.0,74.5 320.2,75.5 320.4,76.7 320.7,72.3 320.9,76.2 321.2,77.0 321.4,74.5 321.7,76.0 321.9,75.9 322.2,75.9 322.4,76.5 322.7,77.3 322.9,75.5 323.1,73.9 323.4,74.9 323.6,75.6 323.9,76.3 324.1,78.3 324.4,77.0 324.6,77.6 324.9,76.9 325.1,75.0 325.3,77.2 325.6,76.8 325.8,77.4 326.1,74.7 326.3,74.0 326.6,74.4 326.8,74.3 327.1,74.1 327.3,76.7 327.5,75.3 327.8,76.1 328.0,76.2 328.3,74.8 328.5,74.0 328.8,74.7 329.0,75.1 329.3,76.7 329.5,76.0 329.8,74.8 330.0,75.6 330.2,74.2 330.5,75.7 330.7,73.8 331.0,74.3 331.2,74.1 331.5,75.7 331.7,75.1 332.0,74.3 332.2,76.3 332.4,75.8 332.7,77.4 332.9,77.8 333.2,74.9 333.4,77.3 333.7,76.7 333.9,74.3 334.2,77.6 334.4,74.8 334.6,75.7 334.9,76.3 335.1,75.4 335.4,76.5 335.6,73.0 335.9,77.8 336.1,76.2 336.4,77.1 336.6,76.3 336.9,76.8 337.1,73.8 337.3,74.8 337.6,72.7 337.8,72.6 338.1,72.2 338.3,73.2 338.6,71.9 338.8,74.4 339.1,74.8 339.3,75.5 339.5,74.5 339.8,74.7 340.0,74.6 340.3,74.4 340.5,75.0 340.8,75.3 341.0,77.0 341.3,75.2 341.5,75.7 341.7,76.1 342.0,73.8 342.2,76.4 342.5,77.1 342.7,74.4 343.0,75.6 343.2,74.3 343.5,75.2 343.7,77.7 344.0,75.9 344.2,76.3 344.4,77.4 344.7,77.7 344.9,75.9 345.2,76.6 345.4,74.9 345.7,74.8 345.9,72.7 346.2,75.2 346.4,75.0 346.6,75.8 346.9,74.7 347.1,77.1 347.4,76.0 347.6,74.4 347.9,74.0 348.1,75.4 348.4,74.9 348.6,76.7 348.8,76.0 349.1,75.7 349.3,74.7 349.6,76.6 349.8,75.6 350.1,74.1 350.3,74.7 350.6,75.9 350.8,75.1 351.1,75.9 351.3,77.7 351.5,76.7 351.8,76.2 352.0,74.9 352.3,74.4 352.5,75.1 352.8,74.6 353.0,74.9 353.3,75.9 353.5,75.1 353.7,73.7 354.0,75.6 354.2,74.9 354.5,76.3 354.7,70.1 355.0,75.4 355.2,74.4 355.5,75.4 355.7,75.0 355.9,75.5 356.2,76.3 356.4,75.1 356.7,75.3 356.9,75.3 357.2,75.3 357.4,73.6 357.7,74.5 357.9,76.0 358.2,77.1 358.4,76.7 358.6,76.4 358.9,74.3 359.1,74.5 359.4,74.5 359.6,74.5 359.9,74.2 360.1,75.2 360.4,75.8 360.6,76.4 360.8,76.5 361.1,75.8 361.3,75.6 361.6,75.0 361.8,75.1 362.1,75.8 362.3,76.6 362.6,75.5 362.8,76.2 363.0,76.7 363.3,77.1 363.5,77.3 363.8,76.1 364.0,76.1 364.3,76.6 364.5,74.8 364.8,74.0 365.0,76.0 365.3,73.4 365.5,75.2 365.7,76.3 366.0,75.3 366.2,75.4 366.5,74.5 366.7,77.5 367.0,76.5 367.2,75.8 367.5,78.2 367.7,76.3 367.9,75.8 368.2,74.9 368.4,76.3 368.7,76.3 368.9,75.3 369.2,75.0 369.4,74.6 369.7,73.9 369.9,75.1 370.1,76.5 370.4,74.5 370.6,75.5 370.9,76.0 371.1,74.7 371.4,77.9 371.6,75.7 371.9,76.3 372.1,76.9 372.4,76.6 372.6,77.3 372.8,75.1 373.1,77.4 373.3,75.9 373.6,75.4 373.8,74.4 374.1,75.1 374.3,76.2 374.6,76.2 374.8,74.0 375.0,74.4 375.3,75.0 375.5,77.9 375.8,76.7 376.0,75.4 376.3,77.1 376.5,75.6 376.8,75.6 377.0,74.7 377.3,74.2 377.5,73.3 377.7,74.2 378.0,76.0 378.2,76.1 378.5,74.2 378.7,77.3 379.0,75.6 379.2,74.2 379.5,75.7 379.7,75.2 379.9,73.9 380.2,74.5 380.4,74.0 380.7,75.7 380.9,76.7 381.2,77.0 381.4,77.3 381.7,75.6 381.9,75.4 382.1,76.0 382.4,74.5 382.6,76.5 382.9,76.0 383.1,76.5 383.4,75.7 383.6,75.3 383.9,76.9 384.1,77.3 384.4,76.7 384.6,76.7 384.8,76.4 385.1,77.0 385.3,76.6 385.6,76.5 385.8,76.7 386.1,75.8 386.3,75.7 386.6,74.9 386.8,73.7 387.0,75.1 387.3,73.7 387.5,73.3 387.8,74.3 388.0,73.9 388.3,74.6 388.5,76.2 388.8,74.2 389.0,75.0 389.2,74.6 389.5,75.9 389.7,75.5 390.0,75.5 390.2,74.9 390.5,74.6 390.7,74.1 391.0,76.1 391.2,75.6 391.5,75.1 391.7,74.3 391.9,75.9 392.2,73.9 392.4,76.4 392.7,76.1 392.9,74.2 393.2,75.1 393.4,74.2 393.7,78.0 393.9,76.3 394.1,76.8 394.4,75.8 394.6,74.0 394.9,77.7 395.1,77.3 395.4,76.7 395.6,75.7 395.9,74.9 396.1,75.0 396.3,74.2 396.6,74.0 396.8,75.3 397.1,76.2 397.3,77.3 397.6,77.0 397.8,76.9 398.1,76.2 398.3,75.3 398.6,77.5 398.8,76.0 399.0,77.0 399.3,77.3 399.5,74.6 399.8,76.7 400.0,76.4 400.3,74.9 400.5,75.6 400.8,77.2 401.0,74.9 401.2,75.9 401.5,75.6 401.7,74.1 402.0,75.9 402.2,75.5 402.5,76.8 402.7,76.9 403.0,76.4 403.2,78.0 403.4,73.7 403.7,74.2 403.9,74.1 404.2,75.1 404.4,73.7 404.7,74.3 404.9,76.4 405.2,73.8 405.4,74.8 405.7,75.3 405.9,74.7 406.1,74.0 406.4,74.7 406.6,74.5 406.9,73.3 407.1,73.8 407.4,74.6 407.6,73.8 407.9,73.8 408.1,72.7 408.3,74.2 408.6,74.2 408.8,74.9 409.1,77.5 409.3,75.4 409.6,78.0 409.8,75.7 410.1,72.9 410.3,75.7 410.5,75.3 410.8,76.8 411.0,75.5 411.3,73.7 411.5,73.3 411.8,75.1 412.0,71.2 412.3,77.9 412.5,76.7 412.8,75.8 413.0,76.8 413.2,76.5 413.5,76.3 413.7,73.6 414.0,75.4 414.2,75.1 414.5,74.2 414.7,75.9 415.0,74.3 415.2,76.7 415.4,75.9 415.7,76.7 415.9,74.2 416.2,77.1 416.4,77.4 416.7,75.8 416.9,74.1 417.2,75.7 417.4,76.0 417.6,75.4 417.9,73.9 418.1,75.0 418.4,74.7 418.6,74.2 418.9,72.1 419.1,76.6 419.4,75.9 419.6,76.3 419.9,74.8 420.1,76.0 420.3,77.0 420.6,75.2 420.8,76.9 421.1,76.9 421.3,76.9 421.6,76.6 421.8,76.6 422.1,73.5 422.3,74.4 422.5,75.8 422.8,75.5 423.0,74.9 423.3,75.5 423.5,75.3 423.8,75.5 424.0,75.6 424.3,76.2 424.5,74.5 424.7,77.0 425.0,77.1 425.2,76.1 425.5,76.2 425.7,76.5 426.0,76.9 426.2,76.3 426.5,76.6 426.7,76.4 427.0,73.9 427.2,75.7 427.4,75.2 427.7,75.3 427.9,76.1 428.2,75.3 428.4,75.4 428.7,76.2 428.9,76.0 429.2,75.4 429.4,75.4 429.6,75.2 429.9,75.7 430.1,76.3 430.4,76.3 430.6,77.8 430.9,76.8 431.1,77.2 431.4,77.1 431.6,75.9 431.8,75.9 432.1,78.9 432.3,76.7 432.6,76.2 432.8,77.9 433.1,76.8 433.3,75.9 433.6,76.1 433.8,76.4 434.1,75.8 434.3,73.9 434.5,73.1 434.8,74.9 435.0,74.5 435.3,75.6 435.5,74.3 435.8,73.9 436.0,75.7 436.3,75.0 436.5,75.6 436.7,75.2 437.0,74.9 437.2,76.3 437.5,75.5 437.7,77.7 438.0,76.7 438.2,74.7 438.5,76.2 438.7,75.0 439.0,77.9 439.2,74.8 439.4,75.0 439.7,77.0 439.9,76.2 440.2,75.8 440.4,76.1 440.7,75.3 440.9,75.8 441.2,77.9 441.4,76.7 441.6,77.7 441.9,76.0 442.1,76.7 442.4,75.0 442.6,74.7 442.9,75.3 443.1,75.4 443.4,74.3 443.6,75.3 443.8,75.6 444.1,74.0 444.3,75.0 444.6,75.0 444.8,74.1 445.1,75.4 445.3,75.0 445.6,75.6 445.8,75.7 446.1,74.7 446.3,75.4 446.5,74.7 446.8,75.7 447.0,76.8 447.3,74.9 447.5,76.5 447.8,77.5 448.0,77.0 448.3,76.9 448.5,76.9 448.7,75.6 449.0,75.5 449.2,75.4 449.5,75.1 449.7,75.0 450.0,74.9 450.2,75.0 450.5,74.6 450.7,77.7 450.9,76.9 451.2,77.7 451.4,76.9 451.7,78.4 451.9,76.9 452.2,77.5 452.4,78.2 452.7,76.8 452.9,77.3 453.2,75.6 453.4,76.4 453.6,75.0 453.9,75.6 454.1,76.5 454.4,74.8 454.6,76.5 454.9,76.1 455.1,75.9 455.4,75.5 455.6,75.6 455.8,76.5 456.1,77.5 456.3,70.4 456.6,76.0 456.8,75.4 457.1,77.3 457.3,77.0 457.6,75.3 457.8,78.9 458.0,77.5 458.3,77.9 458.5,79.8 458.8,74.9 459.0,75.5 459.3,74.3 459.5,73.4 459.8,75.0 460.0,76.4 460.3,74.4 460.5,74.1 460.7,74.4 461.0,76.0 461.2,75.6 461.5,77.0 461.7,75.4 462.0,76.2 462.2,75.7 462.5,72.7 462.7,74.4 462.9,72.4 463.2,74.4 463.4,75.0 463.7,75.5 463.9,75.4 464.2,76.2 464.4,76.0 464.7,75.4 464.9,74.7 465.1,74.6 465.4,74.8 465.6,74.3 465.9,75.2 466.1,75.4 466.4,75.7 466.6,75.1 466.9,75.6 467.1,72.4 467.4,73.6 467.6,75.1 467.8,75.9 468.1,76.7 468.3,75.2 468.6,77.0 468.8,80.4 469.1,77.2 469.3,76.1 469.6,77.1 469.8,76.6 470.0,77.7 470.3,74.4 470.5,76.7 470.8,77.3 471.0,77.7 471.3,76.6 471.5,77.9 471.8,76.8 472.0,75.5 472.2,76.4 472.5,76.5 472.7,75.7 473.0,75.0 473.2,71.7 473.5,74.5 473.7,75.1 474.0,73.5 474.2,76.8 474.5,75.0 474.7,77.1 474.9,75.4 475.2,73.2 475.4,73.9 475.7,75.9 475.9,76.2 476.2,77.2 476.4,76.5 476.7,77.5 476.9,76.8 477.1,78.3 477.4,78.0 477.6,76.4 477.9,76.8 478.1,75.7 478.4,77.3 478.6,76.4 478.9,77.0 479.1,75.3 479.3,75.4 479.6,74.9 479.8,73.4 480.1,77.1 480.3,76.3 480.6,77.4 480.8,76.1 481.1,76.8 481.3,76.0 481.6,74.9 481.8,75.0 482.0,75.7 482.3,73.9 482.5,75.7 482.8,76.9 483.0,76.0 483.3,76.4 483.5,76.7 483.8,76.7 484.0,75.7 484.2,76.5 484.5,73.3 484.7,75.2 485.0,76.5 485.2,75.3 485.5,77.2 485.7,74.9 486.0,76.8 486.2,77.1 486.4,76.2 486.7,77.3 486.9,75.5 487.2,76.7 487.4,75.5 487.7,75.7 487.9,77.0 488.2,75.8 488.4,74.7 488.7,73.4 488.9,75.4 489.1,70.8 489.4,74.4 489.6,75.7 489.9,74.5 490.1,76.6 490.4,75.7 490.6,76.4 490.9,74.5 491.1,74.5 491.3,75.4 491.6,75.9 491.8,73.9 492.1,75.3 492.3,73.9 492.6,71.6 492.8,74.5 493.1,75.4 493.3,76.8 493.5,75.5 493.8,74.8 494.0,74.6 494.3,76.5 494.5,73.2 494.8,74.8 495.0,75.2 495.3,75.7 495.5,76.6 495.8,75.9 496.0,75.1 496.2,75.4 496.5,75.7 496.7,75.0 497.0,76.1 497.2,78.0 497.5,75.4 497.7,75.5 498.0,76.3 498.2,76.0 498.4,77.1 498.7,75.3 498.9,74.8 499.2,76.0 499.4,74.7 499.7,75.4 499.9,75.0 500.2,75.6 500.4,76.2 500.6,75.0 500.9,75.0 501.1,76.6 501.4,77.9 501.6,77.2 501.9,77.4 502.1,75.5 502.4,75.3 502.6,75.5 502.9,76.6 503.1,75.8 503.3,74.2 503.6,75.4 503.8,77.4 504.1,76.4 504.3,75.9 504.6,75.6 504.8,75.6 505.1,76.1 505.3,73.6 505.5,75.5 505.8,75.7 506.0,77.1 506.3,74.7 506.5,74.7 506.8,75.1 507.0,75.0 507.3,77.7 507.5,76.0 507.8,76.9 508.0,75.2 508.2,75.3 508.5,75.9 508.7,75.1 509.0,73.3 509.2,77.3 509.5,74.1 509.7,73.7 510.0,78.8 510.2,75.9 510.4,78.3 510.7,78.2 510.9,75.0 511.2,74.8 511.4,75.0 511.7,73.7 511.9,74.0 512.2,74.0 512.4,73.5 512.6,74.6 512.9,76.6 513.1,74.2 513.4,76.5 513.6,74.6 513.9,75.7 514.1,75.0 514.4,73.5 514.6,75.6 514.9,76.0 515.1,76.7 515.3,78.1 515.6,77.2 515.8,78.1 516.1,76.9 516.3,77.8 516.6,75.2 516.8,75.7 517.1,74.0 517.3,74.7 517.5,75.5 517.8,74.2 518.0,73.8 518.3,75.0 518.5,75.1 518.8,75.1 519.0,74.5 519.3,75.3 519.5,75.1 519.7,75.5 520.0,77.0 520.2,77.9 520.5,79.1 520.7,76.9 521.0,77.1 521.2,76.7 521.5,74.6 521.7,75.2 522.0,74.6 522.2,75.5 522.4,76.5 522.7,78.2 522.9,75.5 523.2,77.7 523.4,76.8 523.7,73.5 523.9,74.8 524.2,75.9 524.4,74.6 524.6,76.4 524.9,73.4 525.1,72.9 525.4,75.3 525.6,75.8 525.9,73.7 526.1,75.7 526.4,74.2 526.6,74.0 526.8,75.5 527.1,73.8 527.3,72.3 527.6,75.0 527.8,73.3 528.1,73.4 528.3,74.5 528.6,75.3 528.8,75.2 529.1,76.4 529.3,74.6 529.5,75.4 529.8,75.3 530.0,71.8 530.3,74.7 530.5,74.2 530.8,75.2 531.0,75.9 531.3,77.3 531.5,73.9 531.7,74.5 532.0,75.0 532.2,75.7 532.5,74.8 532.7,76.8 533.0,75.3 533.2,75.1 533.5,76.1 533.7,76.6 533.9,76.4 534.2,76.5 534.4,76.0 534.7,75.8 534.9,77.1 535.2,75.6 535.4,77.4 535.7,76.1 535.9,75.9 536.2,77.1 536.4,76.1 536.6,76.3 536.9,72.3 537.1,74.4 537.4,77.0 537.6,74.8 537.9,75.2 538.1,74.5 538.4,78.6 538.6,76.4 538.8,76.9 539.1,76.6 539.3,75.7 539.6,74.1 539.8,75.6 540.1,75.1 540.3,76.5 540.6,74.6 540.8,77.6 541.0,76.9 541.3,80.4 541.5,75.9 541.8,75.8 542.0,76.6 542.3,73.5 542.5,75.3 542.8,76.3 543.0,75.4 543.3,75.4 543.5,74.1 543.7,76.1 544.0,74.4 544.2,74.0 544.5,73.6 544.7,75.1 545.0,76.0 545.2,77.1 545.5,76.5 545.7,75.1 545.9,74.2 546.2,78.1 546.4,77.6 546.7,77.8 546.9,75.7 547.2,75.6 547.4,75.0 547.7,74.6 547.9,75.3 548.1,76.3 548.4,78.6 548.6,75.2 548.9,77.4 549.1,74.6 549.4,76.5 549.6,74.3 549.9,74.0 550.1,76.1 550.4,75.7 550.6,77.7 550.8,75.6 551.1,76.7 551.3,75.6 551.6,73.5 551.8,76.3 552.1,75.4 552.3,76.1 552.6,75.3 552.8,76.1 553.0,76.9 553.3,79.0 553.5,76.9 553.8,81.1 554.0,81.0 554.3,80.9 554.5,82.8 554.8,82.3 555.0,83.7 555.2,85.5 555.5,88.0 555.7,87.5 556.0,89.4 556.2,91.1 556.5,92.3 556.7,94.4 557.0,97.5 557.2,97.4 557.5,100.9 557.7,102.6 557.9,104.1 558.2,107.2 558.4,110.1 558.7,110.7 558.9,112.3 559.2,114.9 559.4,115.7 559.7,118.5 559.9,122.0 560.1,121.0 560.4,125.4 560.6,125.1 560.9,126.7 561.1,129.9 561.4,132.7 561.6,132.5 561.9,135.3 562.1,136.1 562.3,138.4 562.6,137.9 562.8,140.6 563.1,144.3 563.3,145.8 563.6,147.7 563.8,148.4 564.1,150.6 564.3,151.7 564.6,153.5 564.8,154.7 565.0,156.5 565.3,156.9 565.5,159.6 565.8,160.8 566.0,162.8 566.3,165.5 566.5,167.8 566.8,168.3 567.0,169.5 567.2,171.3 567.5,170.2 567.7,174.7 568.0,174.2 568.2,176.3 568.5,176.7 568.7,176.4 569.0,178.4 569.2,179.5 569.4,181.2 569.7,184.7 569.9,186.0 570.2,185.9 570.4,188.2 570.7,187.3 570.9,187.5 571.2,187.8 571.4,189.1 571.7,189.8 571.9,191.5 572.1,190.7 572.4,192.0 572.6,192.3 572.9,192.1 573.1,194.9 573.4,195.4 573.6,195.7 573.9,197.0 574.1,196.9 574.3,197.7 574.6,198.8 574.8,199.5 575.1,198.9 575.3,198.2 575.6,200.3 575.8,201.9 576.1,201.8 576.3,198.5 576.6,202.1 576.8,200.6 577.0,200.3 577.3,202.0 577.5,202.2 577.8,200.8 578.0,202.0 578.3,202.0 578.5,200.9 578.8,201.9 579.0,201.3 579.2,202.0 579.5,201.1 579.7,200.5 580.0,200.4 580.2,200.9 580.5,202.3 580.7,201.4 581.0,202.0 581.2,203.7 581.4,202.2 581.7,201.9 581.9,203.1 582.2,202.9 582.4,202.8 582.7,202.7 582.9,204.1 583.2,203.1 583.4,203.1 583.7,202.9 583.9,201.5 584.1,201.0 584.4,201.7 584.6,201.7 584.9,201.4 585.1,202.5 585.4,202.4 585.6,201.5 585.9,201.4 586.1,200.7 586.3,201.1 586.6,199.7 586.8,198.5 587.1,198.9 587.3,199.5 587.6,199.5 587.8,197.2 588.1,197.6 588.3,198.3 588.5,197.2 588.8,195.9 589.0,196.9 589.3,195.9 589.5,196.2 589.8,199.6 590.0,196.2 590.3,196.6 590.5,194.5 590.8,195.7 591.0,194.7 591.2,196.3 591.5,197.0 591.7,196.0 592.0,195.8 592.2,196.1 592.5,194.3 592.7,193.6 593.0,191.6 593.2,194.0 593.4,192.2 593.7,192.2 593.9,194.4 594.2,194.8 594.4,193.7 594.7,195.6 594.9,193.3 595.2,193.2 595.4,193.2 595.6,191.8 595.9,193.6 596.1,192.4 596.4,193.2 596.6,192.7 596.9,193.0 597.1,193.0 597.4,192.3 597.6,190.5 597.9,190.2 598.1,189.1 598.3,190.3 598.6,189.8 598.8,189.0 599.1,190.1 599.3,189.8 599.6,190.6 599.8,191.1 600.1,190.2 600.3,190.3 600.5,188.2 600.8,188.2 601.0,189.9 601.3,189.2 601.5,189.4 601.8,190.5 602.0,190.0 602.3,188.7 602.5,188.3 602.7,189.3 603.0,189.0 603.2,189.5 603.5,189.9 603.7,190.8 604.0,190.8 604.2,190.0 604.5,190.1 604.7,189.8 605.0,190.4 605.2,191.1 605.4,189.7 605.7,191.1 605.9,191.4 606.2,190.8 606.4,190.5 606.7,188.4 606.9,188.8 607.2,188.9 607.4,190.9 607.6,189.6 607.9,190.8 608.1,189.6 608.4,189.9 608.6,190.4 608.9,188.9 609.1,187.8 609.4,189.4 609.6,190.7 609.8,189.1 610.1,189.2 610.3,189.0 610.6,188.2 610.8,190.5 611.1,188.0 611.3,189.4 611.6,190.0 611.8,189.5 612.1,188.9 612.3,189.7 612.5,191.1 612.8,191.1 613.0,190.9 613.3,190.7 613.5,189.8 613.8,191.6 614.0,189.8 614.3,191.1 614.5,191.2 614.7,190.1 615.0,189.6 615.2,191.3 615.5,190.9 615.7,190.2 616.0,190.1 616.2,189.6 616.5,190.0 616.7,189.3 616.9,188.3 617.2,189.7 617.4,191.6 617.7,190.6 617.9,190.7 618.2,191.9 618.4,191.5 618.7,190.0 618.9,191.6 619.2,192.3 619.4,189.1 619.6,188.6 619.9,188.5 620.1,190.2 620.4,189.8 620.6,191.0 620.9,192.1 621.1,194.0 621.4,191.7 621.6,190.7 621.8,192.3 622.1,190.5 622.3,190.8 622.6,188.6 622.8,191.4 623.1,192.2 623.3,189.4 623.6,192.3 623.8,192.5 624.0,189.3 624.3,188.9 624.5,191.0 624.8,189.6 625.0,189.9 625.3,190.9 625.5,187.4 625.8,190.7 626.0,189.5 626.3,191.3 626.5,191.3 626.7,191.2 627.0,192.1 627.2,191.7 627.5,191.8 627.7,190.7 628.0,191.5 628.2,191.8 628.5,191.9 628.7,191.5 628.9,189.5 629.2,190.3 629.4,191.1 629.7,189.0 629.9,190.5 630.2,190.4 630.4,190.7 630.7,190.2 630.9,191.9 631.1,189.8 631.4,191.0 631.6,189.7 631.9,191.4 632.1,189.3 632.4,190.4 632.6,191.6 632.9,192.7 633.1,191.9 633.4,192.9 633.6,191.2 633.8,192.8 634.1,193.4 634.3,190.8 634.6,190.6 634.8,189.5 635.1,188.3 635.3,191.3 635.6,190.9 635.8,188.9 636.0,191.1 636.3,190.3 636.5,189.7 636.8,190.8 637.0,189.3 637.3,192.2 637.5,191.8 637.8,190.1 638.0,193.1 638.2,191.3 638.5,192.9 638.7,189.4 639.0,190.5 639.2,189.7 639.5,191.5 639.7,192.3 640.0,192.5 640.2,190.9 640.5,190.5 640.7,189.5 640.9,189.5 641.2,192.4 641.4,190.3 641.7,189.4 641.9,188.6 642.2,191.2 642.4,190.8 642.7,192.2 642.9,194.0 643.1,195.2 643.4,192.7 643.6,192.6 643.9,192.4 644.1,190.4 644.4,189.8 644.6,189.3 644.9,184.6 645.1,190.5 645.4,188.8 645.6,189.2 645.8,190.7 646.1,189.4 646.3,188.1 646.6,190.1 646.8,193.9 647.1,191.3 647.3,192.4 647.6,191.7 647.8,187.9 648.0,189.9 648.3,189.9 648.5,191.4 648.8,191.2 649.0,187.7 649.3,188.2 649.5,189.2 649.8,191.7 650.0,190.2 650.2,192.6 650.5,191.1 650.7,190.3 651.0,191.3 651.2,192.0 651.5,193.4 651.7,190.8 652.0,192.3 652.2,192.2 652.5,191.6 652.7,188.9 652.9,189.5 653.2,190.3 653.4,188.8 653.7,190.2 653.9,188.7 654.2,191.6 654.4,194.2 654.7,191.4 654.9,193.8 655.1,194.3 655.4,191.4 655.6,192.8 655.9,191.8 656.1,189.5 656.4,189.7 656.6,189.3 656.9,190.6 657.1,193.2 657.3,188.9 657.6,188.6 657.8,188.6 658.1,189.6 658.3,193.3 658.6,192.2 658.8,193.0 659.1,191.8 659.3,192.0 659.6,193.6 659.8,192.4 660.0,193.5 660.3,189.3 660.5,191.2 660.8,191.5 661.0,190.5 661.3,192.1 661.5,192.6 661.8,191.8 662.0,190.4 662.2,190.9 662.5,188.9 662.7,190.4 663.0,194.3 663.2,190.8 663.5,192.1 663.7,188.4 664.0,189.2 664.2,190.5 664.4,190.8 664.7,190.6 664.9,191.2 665.2,191.6 665.4,191.2 665.7,190.6 665.9,190.4 666.2,192.1 666.4,190.4 666.7,190.9 666.9,189.3 667.1,190.5 667.4,190.6 667.6,190.4 667.9,190.3 668.1,190.0 668.4,191.1 668.6,188.7 668.9,188.3 669.1,187.5 669.3,188.9 669.6,191.7 669.8,191.7 670.1,190.3 670.3,191.8 670.6,191.1 670.8,191.6 671.1,191.5 671.3,191.7 671.5,189.5 671.8,189.6 672.0,191.3 672.3,190.3 672.5,190.4 672.8,189.9 673.0,191.3 673.3,192.0 673.5,190.5 673.8,191.2 674.0,190.0 674.2,189.9 674.5,190.0 674.7,190.1 675.0,188.7 675.2,189.8 675.5,190.0 675.7,192.5 676.0,191.8 676.2,191.0"/>
<polyline stroke="#f00" stroke-width="3.1" stroke-dasharray="11.4 12.56" stroke-dashoffset="0.2" stroke-linejoin="miter" points="64.1,190.8 247.6,190.8 247.6,75.6 552.6,75.6 552.6,190.8 676.2,190.8"/>
</g>
<g font-family="'Liberation Sans', Arial, sans-serif" font-size="15.8" fill="#262626"><text x="64.1" y="258.6" text-anchor="middle">0</text><text x="125.3" y="258.6" text-anchor="middle">1</text><text x="186.5" y="258.6" text-anchor="middle">2</text><text x="247.7" y="258.6" text-anchor="middle">3</text><text x="308.9" y="258.6" text-anchor="middle">4</text><text x="370.1" y="258.6" text-anchor="middle">5</text><text x="431.4" y="258.6" text-anchor="middle">6</text><text x="492.6" y="258.6" text-anchor="middle">7</text><text x="553.8" y="258.6" text-anchor="middle">8</text><text x="615.0" y="258.6" text-anchor="middle">9</text><text x="676.2" y="258.6" text-anchor="middle">10</text><text x="57.7" y="242.8" text-anchor="end">-100</text><text x="57.7" y="196.8" text-anchor="end">0</text><text x="57.7" y="150.6" text-anchor="end">100</text><text x="57.7" y="104.6" text-anchor="end">200</text><text x="57.7" y="58.5" text-anchor="end">300</text><text x="57.7" y="12.4" text-anchor="end">400</text></g>
<text x="370.2" y="285.6" text-anchor="middle" font-family="'Liberation Sans', Arial, sans-serif" font-size="22" fill="#262626">Time (sec)</text>
<text transform="translate(17.2,122.1) rotate(-90)" text-anchor="middle" font-family="'Liberation Sans', Arial, sans-serif" font-size="21.6" fill="#262626">Speed (rpm)</text>
<rect x="286.4" y="106.1" width="227.3" height="59.9" fill="#fff" stroke="#262626" stroke-width="1.1"/>
<path d="M293.9,118.2H343.8" stroke="#0072bd" stroke-width="3.2"/>
<path d="M293.9,136.45H343.8" stroke="#000" stroke-width="3.3"/>
<path d="M293.9,154.7h13.4m11.8,0h12.1" stroke="#f00" stroke-width="3.1"/>
<g font-family="'Liberation Sans', Arial, sans-serif" font-size="14.2" fill="#000"><text x="347.4" y="123.5">Proposed</text><text x="347.4" y="141.7">Linearized state feedback</text><text x="347.4" y="160.2">Ref</text></g>
<text x="370.8" y="325" text-anchor="middle" font-family="'Liberation Serif', 'Times New Roman', serif" font-size="25" fill="#000">A</text>
<g stroke="#dedede" stroke-width="0.9" fill="none"><line x1="125.3" y1="370.0" x2="125.3" y2="600.3"/><line x1="186.5" y1="370.0" x2="186.5" y2="600.3"/><line x1="247.7" y1="370.0" x2="247.7" y2="600.3"/><line x1="308.9" y1="370.0" x2="308.9" y2="600.3"/><line x1="370.1" y1="370.0" x2="370.1" y2="600.3"/><line x1="431.4" y1="370.0" x2="431.4" y2="600.3"/><line x1="492.6" y1="370.0" x2="492.6" y2="600.3"/><line x1="553.8" y1="370.0" x2="553.8" y2="600.3"/><line x1="615.0" y1="370.0" x2="615.0" y2="600.3"/><line x1="64.1" y1="561.9" x2="676.2" y2="561.9"/><line x1="64.1" y1="523.5" x2="676.2" y2="523.5"/><line x1="64.1" y1="485.1" x2="676.2" y2="485.1"/><line x1="64.1" y1="446.8" x2="676.2" y2="446.8"/><line x1="64.1" y1="408.4" x2="676.2" y2="408.4"/></g>
<g stroke="#262626" stroke-width="1.3" fill="none"><rect x="64.1" y="370.0" width="612.1" height="230.3"/><path d="M125.3,600.3v-6.1M125.3,370.0v6.1"/><path d="M186.5,600.3v-6.1M186.5,370.0v6.1"/><path d="M247.7,600.3v-6.1M247.7,370.0v6.1"/><path d="M308.9,600.3v-6.1M308.9,370.0v6.1"/><path d="M370.1,600.3v-6.1M370.1,370.0v6.1"/><path d="M431.4,600.3v-6.1M431.4,370.0v6.1"/><path d="M492.6,600.3v-6.1M492.6,370.0v6.1"/><path d="M553.8,600.3v-6.1M553.8,370.0v6.1"/><path d="M615.0,600.3v-6.1M615.0,370.0v6.1"/><path d="M64.1,561.9h6.1M676.2,561.9h-6.1"/><path d="M64.1,523.5h6.1M676.2,523.5h-6.1"/><path d="M64.1,485.1h6.1M676.2,485.1h-6.1"/><path d="M64.1,446.8h6.1M676.2,446.8h-6.1"/><path d="M64.1,408.4h6.1M676.2,408.4h-6.1"/></g>
<g clip-path="url(#c2)" fill="none" stroke-linejoin="round">
<polyline stroke="#0072bd" stroke-width="3" points="64.1,485.1 248.0,485.1 248.2,575.7 248.5,564.5 248.7,552.9 249.0,541.2 249.2,529.6 249.4,518.2 249.7,507.2 249.9,496.9 250.2,487.5 250.4,479.1 250.7,471.2 250.9,463.2 251.2,457.3 251.4,455.7 251.9,455.7 252.1,456.3 252.4,458.7 252.6,462.2 252.9,466.1 253.1,469.8 253.4,472.5 253.6,475.0 253.9,477.4 254.1,479.8 254.3,481.9 254.6,483.6 254.8,484.8 255.1,485.4 255.3,485.9 255.6,486.4 255.8,486.8 256.1,487.1 256.3,487.3 256.5,487.4 256.8,487.4 257.0,487.4 257.3,487.2 257.5,487.0 257.8,486.7 258.0,486.4 258.3,486.2 258.5,486.0 258.7,485.8 259.0,485.7 259.2,485.6 259.5,485.4 259.7,485.3 260.0,485.2 260.2,485.2 260.5,485.1 552.8,485.1 553.0,396.6 553.3,407.1 553.5,418.0 553.8,429.0 554.0,440.0 554.3,450.7 554.5,461.0 554.8,470.6 555.0,479.2 555.2,486.8 555.5,493.0 555.7,498.7 556.0,504.1 556.2,508.1 556.5,509.7 557.0,509.7 557.2,509.6 557.5,508.6 557.7,507.0 557.9,504.8 558.2,502.4 558.4,500.0 558.7,497.8 558.9,496.0 559.2,494.5 559.4,492.9 559.7,491.3 559.9,489.8 560.1,488.5 560.4,487.2 560.6,486.2 560.9,485.4 561.1,484.9 561.4,484.5 561.6,484.0 561.9,483.7 562.1,483.5 562.3,483.4 562.6,483.4 562.8,483.5 563.1,483.5 563.3,483.6 563.6,483.7 563.8,483.8 564.1,483.9 564.3,484.1 564.6,484.2 564.8,484.3 565.0,484.4 565.3,484.5 565.5,484.5 565.8,484.6 566.0,484.7 566.3,484.7 566.5,484.8 566.8,484.8 567.0,484.9 567.2,485.0 567.5,485.0 567.7,485.1 568.0,485.1 568.2,485.1 568.5,485.1 568.7,485.1 676.2,485.1"/>
<polyline stroke="#000" stroke-width="3.1" stroke-linejoin="miter" stroke-miterlimit="2.5" points="64.1,485.1 64.3,485.1 64.6,485.1 64.8,485.1 65.1,485.1 65.3,485.1 65.6,485.1 65.8,485.1 66.1,485.0 66.3,485.0 66.5,485.0 66.8,485.0 67.0,485.0 67.3,485.0 67.5,485.0 67.8,485.0 68.0,485.0 68.3,485.0 68.5,484.9 68.8,484.9 69.0,484.9 69.2,484.9 69.7,484.9 70.2,484.9 70.7,484.9 71.2,484.9 71.7,484.9 72.2,484.8 72.7,484.8 73.2,484.8 73.6,484.8 74.1,484.8 74.9,484.8 75.6,484.8 76.3,484.8 77.1,484.8 78.1,484.8 79.0,484.7 80.3,484.7 81.5,484.7 83.0,484.7 84.9,484.7 87.4,484.7 91.3,484.7 99.6,484.7 247.5,484.7 247.7,580.1 248.0,579.7 248.2,579.3 248.5,578.7 248.7,578.1 249.0,577.4 249.2,576.6 249.4,575.7 249.7,574.8 249.9,573.8 250.2,572.8 250.4,571.7 250.7,570.5 250.9,569.3 251.2,568.1 251.4,566.8 251.6,565.4 251.9,564.1 252.1,562.7 252.4,561.2 252.6,559.8 252.9,558.3 253.1,556.8 253.4,555.3 253.6,553.7 253.9,552.2 254.1,550.6 254.3,549.0 254.6,547.4 254.8,545.8 255.1,544.2 255.3,542.6 255.6,541.0 255.8,539.4 256.1,537.8 256.3,536.2 256.5,534.6 256.8,533.0 257.0,531.4 257.3,529.9 257.5,528.3 257.8,526.8 258.0,525.3 258.3,523.7 258.5,522.3 258.7,520.8 259.0,519.3 259.2,517.9 259.5,516.5 259.7,515.1 260.0,513.7 260.2,512.3 260.5,511.0 260.7,509.7 261.0,508.4 261.2,507.2 261.4,505.9 261.7,504.7 261.9,503.5 262.2,502.4 262.4,501.3 262.7,500.2 262.9,499.1 263.2,498.0 263.4,497.0 263.6,496.0 263.9,495.0 264.1,494.1 264.4,493.2 264.6,492.3 264.9,491.4 265.1,490.6 265.4,489.8 265.6,489.0 265.8,488.2 266.1,487.5 266.3,486.8 266.6,486.1 266.8,485.5 267.1,484.8 267.3,484.2 267.6,483.6 267.8,483.1 268.1,482.6 268.3,482.0 268.5,481.6 268.8,481.1 269.0,480.7 269.3,480.2 269.5,479.8 269.8,479.5 270.0,479.1 270.3,478.8 270.5,478.4 270.7,478.2 271.0,477.9 271.2,477.6 271.5,477.4 271.7,477.1 272.0,476.9 272.2,476.8 272.5,476.6 272.7,476.4 272.9,476.3 273.2,476.1 273.4,476.0 273.7,475.9 273.9,475.9 274.2,475.8 274.4,475.7 274.7,475.7 274.9,475.6 275.2,475.6 275.4,475.6 275.9,475.6 276.1,475.6 276.4,475.6 276.6,475.7 276.9,475.7 277.1,475.8 277.4,475.8 277.6,475.9 277.8,476.0 278.1,476.1 278.3,476.1 278.6,476.2 278.8,476.3 279.1,476.4 279.3,476.6 279.6,476.7 279.8,476.8 280.0,476.9 280.3,477.0 280.5,477.2 280.8,477.3 281.0,477.4 281.3,477.6 281.5,477.7 281.8,477.9 282.0,478.0 282.3,478.1 282.5,478.3 282.7,478.4 283.0,478.6 283.2,478.7 283.5,478.9 283.7,479.0 284.0,479.2 284.2,479.4 284.5,479.5 284.7,479.7 284.9,479.8 285.2,480.0 285.4,480.1 285.7,480.3 285.9,480.4 286.2,480.6 286.4,480.7 286.7,480.8 286.9,481.0 287.1,481.1 287.4,481.3 287.6,481.4 287.9,481.5 288.1,481.7 288.4,481.8 288.6,481.9 288.9,482.1 289.1,482.2 289.4,482.3 289.6,482.4 289.8,482.6 290.1,482.7 290.3,482.8 290.6,482.9 290.8,483.0 291.1,483.1 291.3,483.2 291.6,483.3 291.8,483.4 292.0,483.5 292.3,483.6 292.5,483.7 292.8,483.8 293.0,483.9 293.3,484.0 293.5,484.1 293.8,484.1 294.0,484.2 294.2,484.3 294.5,484.4 294.7,484.4 295.0,484.5 295.2,484.6 295.5,484.6 295.7,484.7 296.0,484.7 296.2,484.8 296.5,484.8 296.7,484.9 296.9,484.9 297.2,485.0 297.4,485.0 297.7,485.1 297.9,485.1 298.2,485.1 298.4,485.2 298.7,485.2 298.9,485.3 299.1,485.3 299.4,485.3 299.6,485.3 299.9,485.4 300.1,485.4 300.4,485.4 300.6,485.4 300.9,485.4 301.1,485.5 301.3,485.5 301.6,485.5 301.8,485.5 302.1,485.5 302.3,485.5 302.6,485.5 303.1,485.5 303.6,485.5 305.5,485.5 306.0,485.5 306.5,485.5 306.7,485.5 307.0,485.5 307.2,485.5 307.5,485.5 307.7,485.5 308.0,485.5 308.2,485.4 308.5,485.4 308.7,485.4 308.9,485.4 309.2,485.4 309.4,485.4 309.7,485.4 309.9,485.4 310.2,485.4 310.4,485.3 310.7,485.3 310.9,485.3 311.1,485.3 311.4,485.3 311.6,485.3 311.9,485.3 312.1,485.2 312.4,485.2 312.6,485.2 312.9,485.2 313.1,485.2 313.3,485.2 313.6,485.2 313.8,485.1 314.1,485.1 314.3,485.1 314.6,485.1 314.8,485.1 315.1,485.1 315.3,485.1 315.6,485.0 315.8,485.0 316.0,485.0 316.3,485.0 316.5,485.0 316.8,485.0 317.0,485.0 317.3,485.0 317.5,484.9 317.8,484.9 318.0,484.9 318.2,484.9 318.5,484.9 318.7,484.9 319.0,484.9 319.2,484.9 319.5,484.8 319.7,484.8 320.0,484.8 320.2,484.8 320.4,484.8 320.7,484.8 320.9,484.8 321.2,484.8 321.4,484.8 321.7,484.8 321.9,484.8 322.2,484.8 322.7,484.7 323.1,484.7 323.6,484.7 324.1,484.7 324.6,484.7 325.1,484.7 325.6,484.7 326.1,484.7 326.6,484.6 327.3,484.6 328.0,484.6 329.0,484.6 330.2,484.6 337.8,484.6 339.5,484.6 341.0,484.6 342.5,484.6 344.0,484.7 345.7,484.7 347.4,484.7 349.6,484.7 352.3,484.7 357.2,484.7 552.3,484.7 552.6,389.4 552.8,389.8 553.0,390.2 553.3,390.8 553.5,391.5 553.8,392.2 554.0,393.0 554.3,393.9 554.5,394.8 554.8,395.8 555.0,396.9 555.2,398.0 555.5,399.2 555.7,400.4 556.0,401.6 556.2,402.9 556.5,404.3 556.7,405.7 557.0,407.1 557.2,408.5 557.5,410.0 557.7,411.5 557.9,413.0 558.2,414.5 558.4,416.1 558.7,417.6 558.9,419.2 559.2,420.8 559.4,422.4 559.7,424.0 559.9,425.6 560.1,427.2 560.4,428.8 560.6,430.4 560.9,432.0 561.1,433.6 561.4,435.2 561.6,436.8 561.9,438.3 562.1,439.9 562.3,441.4 562.6,443.0 562.8,444.5 563.1,446.0 563.3,447.5 563.6,449.0 563.8,450.4 564.1,451.9 564.3,453.3 564.6,454.7 564.8,456.0 565.0,457.4 565.3,458.7 565.5,460.0 565.8,461.3 566.0,462.5 566.3,463.8 566.5,465.0 566.8,466.1 567.0,467.3 567.2,468.4 567.5,469.5 567.7,470.6 568.0,471.6 568.2,472.6 568.5,473.6 568.7,474.6 569.0,475.5 569.2,476.4 569.4,477.3 569.7,478.2 569.9,479.0 570.2,479.8 570.4,480.6 570.7,481.3 570.9,482.1 571.2,482.8 571.4,483.4 571.7,484.1 571.9,484.7 572.1,485.3 572.4,485.9 572.6,486.4 572.9,487.0 573.1,487.5 573.4,487.9 573.6,488.4 573.9,488.8 574.1,489.2 574.3,489.6 574.6,490.0 574.8,490.4 575.1,490.7 575.3,491.0 575.6,491.3 575.8,491.6 576.1,491.8 576.3,492.1 576.6,492.3 576.8,492.5 577.0,492.7 577.3,492.8 577.5,493.0 577.8,493.1 578.0,493.3 578.3,493.4 578.5,493.5 578.8,493.5 579.0,493.6 579.2,493.7 579.5,493.7 579.7,493.8 580.0,493.8 580.2,493.8 580.5,493.8 580.7,493.8 581.0,493.8 581.2,493.7 581.4,493.7 581.7,493.6 581.9,493.6 582.2,493.5 582.4,493.5 582.7,493.4 582.9,493.3 583.2,493.2 583.4,493.1 583.7,493.0 583.9,492.9 584.1,492.8 584.4,492.7 584.6,492.6 584.9,492.4 585.1,492.3 585.4,492.2 585.6,492.0 585.9,491.9 586.1,491.8 586.3,491.6 586.6,491.5 586.8,491.3 587.1,491.2 587.3,491.0 587.6,490.9 587.8,490.7 588.1,490.6 588.3,490.4 588.5,490.3 588.8,490.1 589.0,490.0 589.3,489.8 589.5,489.7 589.8,489.5 590.0,489.4 590.3,489.2 590.5,489.1 590.8,488.9 591.0,488.8 591.2,488.6 591.5,488.5 591.7,488.4 592.0,488.2 592.2,488.1 592.5,487.9 592.7,487.8 593.0,487.7 593.2,487.5 593.4,487.4 593.7,487.3 593.9,487.2 594.2,487.0 594.4,486.9 594.7,486.8 594.9,486.7 595.2,486.6 595.4,486.5 595.6,486.3 595.9,486.2 596.1,486.1 596.4,486.0 596.6,485.9 596.9,485.8 597.1,485.7 597.4,485.6 597.6,485.6 597.9,485.5 598.1,485.4 598.3,485.3 598.6,485.2 598.8,485.2 599.1,485.1 599.3,485.0 599.6,484.9 599.8,484.9 600.1,484.8 600.3,484.7 600.5,484.7 600.8,484.6 601.0,484.6 601.3,484.5 601.5,484.5 601.8,484.4 602.0,484.4 602.3,484.3 602.5,484.3 602.7,484.3 603.0,484.2 603.2,484.2 603.5,484.2 603.7,484.1 604.0,484.1 604.2,484.1 604.5,484.0 604.7,484.0 605.0,484.0 605.2,484.0 605.4,484.0 605.7,483.9 605.9,483.9 606.2,483.9 606.4,483.9 606.7,483.9 606.9,483.9 607.2,483.9 607.4,483.8 607.9,483.8 608.6,483.8 610.1,483.8 610.6,483.8 611.1,483.9 611.3,483.9 611.6,483.9 611.8,483.9 612.1,483.9 612.3,483.9 612.5,483.9 612.8,483.9 613.0,483.9 613.3,483.9 613.5,484.0 613.8,484.0 614.0,484.0 614.3,484.0 614.5,484.0 614.7,484.0 615.0,484.0 615.2,484.0 615.5,484.1 615.7,484.1 616.0,484.1 616.2,484.1 616.5,484.1 616.7,484.1 616.9,484.1 617.2,484.2 617.4,484.2 617.7,484.2 617.9,484.2 618.2,484.2 618.4,484.2 618.7,484.2 618.9,484.3 619.2,484.3 619.4,484.3 619.6,484.3 619.9,484.3 620.1,484.3 620.4,484.3 620.6,484.4 620.9,484.4 621.1,484.4 621.4,484.4 621.6,484.4 621.8,484.4 622.1,484.4 622.3,484.4 622.6,484.5 622.8,484.5 623.1,484.5 623.3,484.5 623.6,484.5 623.8,484.5 624.0,484.5 624.3,484.5 624.5,484.5 624.8,484.6 625.0,484.6 625.3,484.6 625.5,484.6 625.8,484.6 626.0,484.6 626.3,484.6 626.5,484.6 626.7,484.6 627.0,484.6 627.5,484.6 628.0,484.7 628.5,484.7 628.9,484.7 629.4,484.7 629.9,484.7 630.4,484.7 630.9,484.7 631.6,484.7 632.4,484.7 633.1,484.8 634.1,484.8 635.6,484.8 642.2,484.8 643.9,484.8 645.4,484.7 646.8,484.7 648.3,484.7 650.0,484.7 651.7,484.7 653.7,484.7 656.1,484.7 659.8,484.7 676.2,484.7"/>
</g>
<g font-family="'Liberation Sans', Arial, sans-serif" font-size="15.8" fill="#262626"><text x="64.1" y="621.9" text-anchor="middle">0</text><text x="125.3" y="621.9" text-anchor="middle">1</text><text x="186.5" y="621.9" text-anchor="middle">2</text><text x="247.7" y="621.9" text-anchor="middle">3</text><text x="308.9" y="621.9" text-anchor="middle">4</text><text x="370.1" y="621.9" text-anchor="middle">5</text><text x="431.4" y="621.9" text-anchor="middle">6</text><text x="492.6" y="621.9" text-anchor="middle">7</text><text x="553.8" y="621.9" text-anchor="middle">8</text><text x="615.0" y="621.9" text-anchor="middle">9</text><text x="676.2" y="621.9" text-anchor="middle">10</text><text x="57.7" y="606.2" text-anchor="end">-300</text><text x="57.7" y="567.8" text-anchor="end">-200</text><text x="57.7" y="529.4" text-anchor="end">-100</text><text x="57.7" y="491.0" text-anchor="end">0</text><text x="57.7" y="452.7" text-anchor="end">100</text><text x="57.7" y="414.3" text-anchor="end">200</text><text x="57.7" y="375.9" text-anchor="end">300</text></g>
<text x="370.2" y="649.0" text-anchor="middle" font-family="'Liberation Sans', Arial, sans-serif" font-size="22" fill="#262626">Time (sec)</text>
<text transform="translate(17.2,485.5) rotate(-90)" text-anchor="middle" font-family="'Liberation Sans', Arial, sans-serif" font-size="21.6" fill="#262626">Speed error (rpm)</text>
<rect x="76.3" y="388.5" width="227.4" height="41.9" fill="#fff" stroke="#262626" stroke-width="1.1"/>
<path d="M84.5,400H134.4" stroke="#0072bd" stroke-width="3.2"/>
<path d="M84.5,418.3H134.4" stroke="#000" stroke-width="3.1"/>
<g font-family="'Liberation Sans', Arial, sans-serif" font-size="14.2" fill="#000"><text x="137.8" y="405.4">Proposed</text><text x="137.8" y="423.6">Linearized state feedback</text></g>
<text x="368.2" y="688.7" text-anchor="middle" font-family="'Liberation Serif', 'Times New Roman', serif" font-size="25" fill="#000">B</text>
</svg>
</body></html>
